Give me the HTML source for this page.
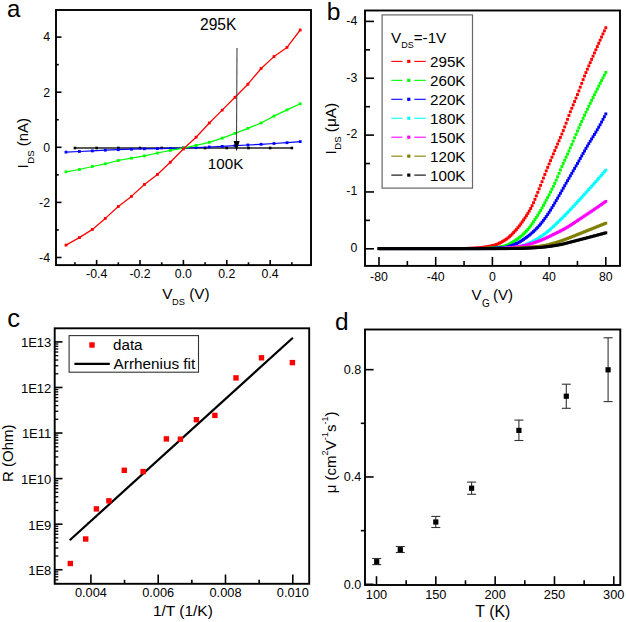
<!DOCTYPE html>
<html><head><meta charset="utf-8"><style>
html,body{margin:0;padding:0;background:#fff;overflow:hidden;}
svg{display:block;}
text{font-family:"Liberation Sans", sans-serif;fill:#000;}
</style></head><body>
<svg width="626" height="622" viewBox="0 0 626 622">
<rect width="626" height="622" fill="#fff"/>
<rect x="56" y="10" width="255" height="255.10000000000002" fill="none" stroke="#000" stroke-width="1.9"/>
<line x1="96.64" y1="265.10" x2="96.64" y2="259.90" stroke="#000" stroke-width="1.6"/>
<text x="96.64" y="277.90" font-size="12.3" text-anchor="middle" >-0.4</text>
<line x1="140.02" y1="265.10" x2="140.02" y2="259.90" stroke="#000" stroke-width="1.6"/>
<text x="140.02" y="277.90" font-size="12.3" text-anchor="middle" >-0.2</text>
<line x1="183.40" y1="265.10" x2="183.40" y2="259.90" stroke="#000" stroke-width="1.6"/>
<text x="183.40" y="277.90" font-size="12.3" text-anchor="middle" >0.0</text>
<line x1="226.78" y1="265.10" x2="226.78" y2="259.90" stroke="#000" stroke-width="1.6"/>
<text x="226.78" y="277.90" font-size="12.3" text-anchor="middle" >0.2</text>
<line x1="270.16" y1="265.10" x2="270.16" y2="259.90" stroke="#000" stroke-width="1.6"/>
<text x="270.16" y="277.90" font-size="12.3" text-anchor="middle" >0.4</text>
<line x1="74.95" y1="265.10" x2="74.95" y2="262.30" stroke="#000" stroke-width="1.6"/>
<line x1="118.33" y1="265.10" x2="118.33" y2="262.30" stroke="#000" stroke-width="1.6"/>
<line x1="161.71" y1="265.10" x2="161.71" y2="262.30" stroke="#000" stroke-width="1.6"/>
<line x1="205.09" y1="265.10" x2="205.09" y2="262.30" stroke="#000" stroke-width="1.6"/>
<line x1="248.47" y1="265.10" x2="248.47" y2="262.30" stroke="#000" stroke-width="1.6"/>
<line x1="291.85" y1="265.10" x2="291.85" y2="262.30" stroke="#000" stroke-width="1.6"/>
<line x1="56.00" y1="37.10" x2="61.50" y2="37.10" stroke="#000" stroke-width="1.6"/>
<text x="50.00" y="41.40" font-size="12.3" text-anchor="end" >4</text>
<line x1="56.00" y1="92.20" x2="61.50" y2="92.20" stroke="#000" stroke-width="1.6"/>
<text x="50.00" y="96.50" font-size="12.3" text-anchor="end" >2</text>
<line x1="56.00" y1="147.30" x2="61.50" y2="147.30" stroke="#000" stroke-width="1.6"/>
<text x="50.00" y="151.60" font-size="12.3" text-anchor="end" >0</text>
<line x1="56.00" y1="202.40" x2="61.50" y2="202.40" stroke="#000" stroke-width="1.6"/>
<text x="50.00" y="206.70" font-size="12.3" text-anchor="end" >-2</text>
<line x1="56.00" y1="257.50" x2="61.50" y2="257.50" stroke="#000" stroke-width="1.6"/>
<text x="50.00" y="261.80" font-size="12.3" text-anchor="end" >-4</text>
<line x1="56.00" y1="64.65" x2="58.80" y2="64.65" stroke="#000" stroke-width="1.6"/>
<line x1="56.00" y1="119.75" x2="58.80" y2="119.75" stroke="#000" stroke-width="1.6"/>
<line x1="56.00" y1="174.85" x2="58.80" y2="174.85" stroke="#000" stroke-width="1.6"/>
<line x1="56.00" y1="229.95" x2="58.80" y2="229.95" stroke="#000" stroke-width="1.6"/>
<polyline points="74.95,148.00 96.64,148.00 118.33,148.00 140.02,148.00 161.71,148.00 183.40,148.00 205.09,148.00 226.78,148.00 248.47,148.00 270.16,148.00 291.85,148.00" fill="none" stroke="#222" stroke-width="1.5" stroke-linejoin="round"/>
<rect x="73.65" y="146.70" width="2.60" height="2.60" fill="#000"/>
<rect x="95.34" y="146.70" width="2.60" height="2.60" fill="#000"/>
<rect x="117.03" y="146.70" width="2.60" height="2.60" fill="#000"/>
<rect x="138.72" y="146.70" width="2.60" height="2.60" fill="#000"/>
<rect x="160.41" y="146.70" width="2.60" height="2.60" fill="#000"/>
<rect x="182.10" y="146.70" width="2.60" height="2.60" fill="#000"/>
<rect x="203.79" y="146.70" width="2.60" height="2.60" fill="#000"/>
<rect x="225.48" y="146.70" width="2.60" height="2.60" fill="#000"/>
<rect x="247.17" y="146.70" width="2.60" height="2.60" fill="#000"/>
<rect x="268.86" y="146.70" width="2.60" height="2.60" fill="#000"/>
<rect x="290.55" y="146.70" width="2.60" height="2.60" fill="#000"/>
<polyline points="66.00,152.10 79.40,151.50 92.40,150.90 105.30,150.20 118.30,149.70 131.40,149.20 144.40,148.80 157.40,148.60 170.30,148.40 183.30,148.00 196.10,147.70 209.30,147.00 222.20,146.40 235.00,145.70 247.90,145.00 261.10,144.30 274.00,143.50 287.00,142.70 300.20,141.60" fill="none" stroke="#0000ff" stroke-width="1.25" stroke-linejoin="round"/>
<rect x="64.60" y="150.70" width="2.80" height="2.80" fill="#0000ff"/>
<rect x="78.00" y="150.10" width="2.80" height="2.80" fill="#0000ff"/>
<rect x="91.00" y="149.50" width="2.80" height="2.80" fill="#0000ff"/>
<rect x="103.90" y="148.80" width="2.80" height="2.80" fill="#0000ff"/>
<rect x="116.90" y="148.30" width="2.80" height="2.80" fill="#0000ff"/>
<rect x="130.00" y="147.80" width="2.80" height="2.80" fill="#0000ff"/>
<rect x="143.00" y="147.40" width="2.80" height="2.80" fill="#0000ff"/>
<rect x="156.00" y="147.20" width="2.80" height="2.80" fill="#0000ff"/>
<rect x="168.90" y="147.00" width="2.80" height="2.80" fill="#0000ff"/>
<rect x="181.90" y="146.60" width="2.80" height="2.80" fill="#0000ff"/>
<rect x="194.70" y="146.30" width="2.80" height="2.80" fill="#0000ff"/>
<rect x="207.90" y="145.60" width="2.80" height="2.80" fill="#0000ff"/>
<rect x="220.80" y="145.00" width="2.80" height="2.80" fill="#0000ff"/>
<rect x="233.60" y="144.30" width="2.80" height="2.80" fill="#0000ff"/>
<rect x="246.50" y="143.60" width="2.80" height="2.80" fill="#0000ff"/>
<rect x="259.70" y="142.90" width="2.80" height="2.80" fill="#0000ff"/>
<rect x="272.60" y="142.10" width="2.80" height="2.80" fill="#0000ff"/>
<rect x="285.60" y="141.30" width="2.80" height="2.80" fill="#0000ff"/>
<rect x="298.80" y="140.20" width="2.80" height="2.80" fill="#0000ff"/>
<polyline points="66.00,171.80 79.40,169.50 92.40,166.50 105.30,163.80 118.30,160.50 131.40,158.20 144.40,155.90 157.40,153.00 170.30,150.40 183.30,148.20 196.10,145.40 209.30,142.30 222.20,138.10 235.00,133.30 247.90,128.30 261.10,123.00 274.00,116.10 287.00,109.90 300.20,103.80" fill="none" stroke="#00ff00" stroke-width="1.25" stroke-linejoin="round"/>
<rect x="64.60" y="170.40" width="2.80" height="2.80" fill="#00ff00"/>
<rect x="78.00" y="168.10" width="2.80" height="2.80" fill="#00ff00"/>
<rect x="91.00" y="165.10" width="2.80" height="2.80" fill="#00ff00"/>
<rect x="103.90" y="162.40" width="2.80" height="2.80" fill="#00ff00"/>
<rect x="116.90" y="159.10" width="2.80" height="2.80" fill="#00ff00"/>
<rect x="130.00" y="156.80" width="2.80" height="2.80" fill="#00ff00"/>
<rect x="143.00" y="154.50" width="2.80" height="2.80" fill="#00ff00"/>
<rect x="156.00" y="151.60" width="2.80" height="2.80" fill="#00ff00"/>
<rect x="168.90" y="149.00" width="2.80" height="2.80" fill="#00ff00"/>
<rect x="181.90" y="146.80" width="2.80" height="2.80" fill="#00ff00"/>
<rect x="194.70" y="144.00" width="2.80" height="2.80" fill="#00ff00"/>
<rect x="207.90" y="140.90" width="2.80" height="2.80" fill="#00ff00"/>
<rect x="220.80" y="136.70" width="2.80" height="2.80" fill="#00ff00"/>
<rect x="233.60" y="131.90" width="2.80" height="2.80" fill="#00ff00"/>
<rect x="246.50" y="126.90" width="2.80" height="2.80" fill="#00ff00"/>
<rect x="259.70" y="121.60" width="2.80" height="2.80" fill="#00ff00"/>
<rect x="272.60" y="114.70" width="2.80" height="2.80" fill="#00ff00"/>
<rect x="285.60" y="108.50" width="2.80" height="2.80" fill="#00ff00"/>
<rect x="298.80" y="102.40" width="2.80" height="2.80" fill="#00ff00"/>
<polyline points="66.00,245.10 79.40,237.60 92.40,229.40 105.30,218.40 118.30,206.50 131.40,196.40 144.40,184.50 157.40,174.50 170.30,162.20 183.30,149.00 196.10,137.20 209.30,123.00 222.20,110.10 235.00,97.30 247.90,84.20 261.10,68.50 274.00,56.60 287.00,47.40 300.20,30.00" fill="none" stroke="#ff0000" stroke-width="1.25" stroke-linejoin="round"/>
<rect x="64.60" y="243.70" width="2.80" height="2.80" fill="#ff0000"/>
<rect x="78.00" y="236.20" width="2.80" height="2.80" fill="#ff0000"/>
<rect x="91.00" y="228.00" width="2.80" height="2.80" fill="#ff0000"/>
<rect x="103.90" y="217.00" width="2.80" height="2.80" fill="#ff0000"/>
<rect x="116.90" y="205.10" width="2.80" height="2.80" fill="#ff0000"/>
<rect x="130.00" y="195.00" width="2.80" height="2.80" fill="#ff0000"/>
<rect x="143.00" y="183.10" width="2.80" height="2.80" fill="#ff0000"/>
<rect x="156.00" y="173.10" width="2.80" height="2.80" fill="#ff0000"/>
<rect x="168.90" y="160.80" width="2.80" height="2.80" fill="#ff0000"/>
<rect x="181.90" y="147.60" width="2.80" height="2.80" fill="#ff0000"/>
<rect x="194.70" y="135.80" width="2.80" height="2.80" fill="#ff0000"/>
<rect x="207.90" y="121.60" width="2.80" height="2.80" fill="#ff0000"/>
<rect x="220.80" y="108.70" width="2.80" height="2.80" fill="#ff0000"/>
<rect x="233.60" y="95.90" width="2.80" height="2.80" fill="#ff0000"/>
<rect x="246.50" y="82.80" width="2.80" height="2.80" fill="#ff0000"/>
<rect x="259.70" y="67.10" width="2.80" height="2.80" fill="#ff0000"/>
<rect x="272.60" y="55.20" width="2.80" height="2.80" fill="#ff0000"/>
<rect x="285.60" y="46.00" width="2.80" height="2.80" fill="#ff0000"/>
<rect x="298.80" y="28.60" width="2.80" height="2.80" fill="#ff0000"/>
<text x="200.00" y="30.00" font-size="15.6" text-anchor="start" >295K</text>
<text x="207.80" y="169.10" font-size="15.2" text-anchor="start" >100K</text>
<line x1="237.00" y1="47.90" x2="236.50" y2="142.00" stroke="#444" stroke-width="1.1"/>
<polygon points="233.6,141 239.6,141 236.6,151.2" fill="#000"/>
<text x="162.20" y="299.10" font-size="15.3" text-anchor="start" >V<tspan font-size="9.3" dx="-0.4" dy="6.3">DS</tspan><tspan dy="-6.3"> (V)</tspan></text>
<text transform="translate(28.1,168.5) rotate(-90)" font-size="15">I<tspan font-size="9.5" dx="0.6" dy="5.6">DS</tspan><tspan dy="-5.6"> (nA)</tspan></text>
<text x="7.00" y="16.80" font-size="24" text-anchor="start" >a</text>
<rect x="365" y="10.5" width="255" height="255.39999999999998" fill="none" stroke="#000" stroke-width="1.9"/>
<line x1="379.00" y1="265.90" x2="379.00" y2="256.90" stroke="#000" stroke-width="1.6"/>
<text x="379.00" y="281.00" font-size="12.3" text-anchor="middle" >-80</text>
<line x1="435.70" y1="265.90" x2="435.70" y2="256.90" stroke="#000" stroke-width="1.6"/>
<text x="435.70" y="281.00" font-size="12.3" text-anchor="middle" >-40</text>
<line x1="492.40" y1="265.90" x2="492.40" y2="256.90" stroke="#000" stroke-width="1.6"/>
<text x="492.40" y="281.00" font-size="12.3" text-anchor="middle" >0</text>
<line x1="549.10" y1="265.90" x2="549.10" y2="256.90" stroke="#000" stroke-width="1.6"/>
<text x="549.10" y="281.00" font-size="12.3" text-anchor="middle" >40</text>
<line x1="605.80" y1="265.90" x2="605.80" y2="256.90" stroke="#000" stroke-width="1.6"/>
<text x="605.80" y="281.00" font-size="12.3" text-anchor="middle" >80</text>
<line x1="407.35" y1="265.90" x2="407.35" y2="260.90" stroke="#000" stroke-width="1.6"/>
<line x1="464.05" y1="265.90" x2="464.05" y2="260.90" stroke="#000" stroke-width="1.6"/>
<line x1="520.75" y1="265.90" x2="520.75" y2="260.90" stroke="#000" stroke-width="1.6"/>
<line x1="577.45" y1="265.90" x2="577.45" y2="260.90" stroke="#000" stroke-width="1.6"/>
<line x1="365.00" y1="21.40" x2="374.00" y2="21.40" stroke="#000" stroke-width="1.6"/>
<text x="357.30" y="24.70" font-size="12.3" text-anchor="end" >-4</text>
<line x1="365.00" y1="78.25" x2="374.00" y2="78.25" stroke="#000" stroke-width="1.6"/>
<text x="357.30" y="81.55" font-size="12.3" text-anchor="end" >-3</text>
<line x1="365.00" y1="135.10" x2="374.00" y2="135.10" stroke="#000" stroke-width="1.6"/>
<text x="357.30" y="138.40" font-size="12.3" text-anchor="end" >-2</text>
<line x1="365.00" y1="191.95" x2="374.00" y2="191.95" stroke="#000" stroke-width="1.6"/>
<text x="357.30" y="195.25" font-size="12.3" text-anchor="end" >-1</text>
<line x1="365.00" y1="248.80" x2="374.00" y2="248.80" stroke="#000" stroke-width="1.6"/>
<text x="357.30" y="252.10" font-size="12.3" text-anchor="end" >0</text>
<line x1="365.00" y1="49.83" x2="370.00" y2="49.83" stroke="#000" stroke-width="1.6"/>
<line x1="365.00" y1="106.68" x2="370.00" y2="106.68" stroke="#000" stroke-width="1.6"/>
<line x1="365.00" y1="163.53" x2="370.00" y2="163.53" stroke="#000" stroke-width="1.6"/>
<line x1="365.00" y1="220.38" x2="370.00" y2="220.38" stroke="#000" stroke-width="1.6"/>
<rect x="377.55" y="247.15" width="2.90" height="2.90" fill="#ff0000"/>
<rect x="378.97" y="247.15" width="2.90" height="2.90" fill="#ff0000"/>
<rect x="380.38" y="247.15" width="2.90" height="2.90" fill="#ff0000"/>
<rect x="381.80" y="247.15" width="2.90" height="2.90" fill="#ff0000"/>
<rect x="383.22" y="247.15" width="2.90" height="2.90" fill="#ff0000"/>
<rect x="384.64" y="247.15" width="2.90" height="2.90" fill="#ff0000"/>
<rect x="386.06" y="247.15" width="2.90" height="2.90" fill="#ff0000"/>
<rect x="387.47" y="247.15" width="2.90" height="2.90" fill="#ff0000"/>
<rect x="388.89" y="247.15" width="2.90" height="2.90" fill="#ff0000"/>
<rect x="390.31" y="247.15" width="2.90" height="2.90" fill="#ff0000"/>
<rect x="391.72" y="247.15" width="2.90" height="2.90" fill="#ff0000"/>
<rect x="393.14" y="247.15" width="2.90" height="2.90" fill="#ff0000"/>
<rect x="394.56" y="247.15" width="2.90" height="2.90" fill="#ff0000"/>
<rect x="395.98" y="247.15" width="2.90" height="2.90" fill="#ff0000"/>
<rect x="397.39" y="247.15" width="2.90" height="2.90" fill="#ff0000"/>
<rect x="398.81" y="247.15" width="2.90" height="2.90" fill="#ff0000"/>
<rect x="400.23" y="247.15" width="2.90" height="2.90" fill="#ff0000"/>
<rect x="401.65" y="247.15" width="2.90" height="2.90" fill="#ff0000"/>
<rect x="403.06" y="247.15" width="2.90" height="2.90" fill="#ff0000"/>
<rect x="404.48" y="247.15" width="2.90" height="2.90" fill="#ff0000"/>
<rect x="405.90" y="247.15" width="2.90" height="2.90" fill="#ff0000"/>
<rect x="407.32" y="247.15" width="2.90" height="2.90" fill="#ff0000"/>
<rect x="408.73" y="247.15" width="2.90" height="2.90" fill="#ff0000"/>
<rect x="410.15" y="247.15" width="2.90" height="2.90" fill="#ff0000"/>
<rect x="411.57" y="247.15" width="2.90" height="2.90" fill="#ff0000"/>
<rect x="412.99" y="247.15" width="2.90" height="2.90" fill="#ff0000"/>
<rect x="414.40" y="247.15" width="2.90" height="2.90" fill="#ff0000"/>
<rect x="415.82" y="247.15" width="2.90" height="2.90" fill="#ff0000"/>
<rect x="417.24" y="247.15" width="2.90" height="2.90" fill="#ff0000"/>
<rect x="418.66" y="247.15" width="2.90" height="2.90" fill="#ff0000"/>
<rect x="420.07" y="247.15" width="2.90" height="2.90" fill="#ff0000"/>
<rect x="421.49" y="247.15" width="2.90" height="2.90" fill="#ff0000"/>
<rect x="422.91" y="247.15" width="2.90" height="2.90" fill="#ff0000"/>
<rect x="424.33" y="247.15" width="2.90" height="2.90" fill="#ff0000"/>
<rect x="425.75" y="247.15" width="2.90" height="2.90" fill="#ff0000"/>
<rect x="427.16" y="247.15" width="2.90" height="2.90" fill="#ff0000"/>
<rect x="428.58" y="247.15" width="2.90" height="2.90" fill="#ff0000"/>
<rect x="430.00" y="247.15" width="2.90" height="2.90" fill="#ff0000"/>
<rect x="431.42" y="247.15" width="2.90" height="2.90" fill="#ff0000"/>
<rect x="432.83" y="247.15" width="2.90" height="2.90" fill="#ff0000"/>
<rect x="434.25" y="247.15" width="2.90" height="2.90" fill="#ff0000"/>
<rect x="435.67" y="247.15" width="2.90" height="2.90" fill="#ff0000"/>
<rect x="437.08" y="247.15" width="2.90" height="2.90" fill="#ff0000"/>
<rect x="438.50" y="247.15" width="2.90" height="2.90" fill="#ff0000"/>
<rect x="439.92" y="247.15" width="2.90" height="2.90" fill="#ff0000"/>
<rect x="441.34" y="247.15" width="2.90" height="2.90" fill="#ff0000"/>
<rect x="442.75" y="247.15" width="2.90" height="2.90" fill="#ff0000"/>
<rect x="444.17" y="247.15" width="2.90" height="2.90" fill="#ff0000"/>
<rect x="445.59" y="247.15" width="2.90" height="2.90" fill="#ff0000"/>
<rect x="447.01" y="247.15" width="2.90" height="2.90" fill="#ff0000"/>
<rect x="448.43" y="247.15" width="2.90" height="2.90" fill="#ff0000"/>
<rect x="449.84" y="247.15" width="2.90" height="2.90" fill="#ff0000"/>
<rect x="451.26" y="247.15" width="2.90" height="2.90" fill="#ff0000"/>
<rect x="452.68" y="247.15" width="2.90" height="2.90" fill="#ff0000"/>
<rect x="454.09" y="247.15" width="2.90" height="2.90" fill="#ff0000"/>
<rect x="455.51" y="247.14" width="2.90" height="2.90" fill="#ff0000"/>
<rect x="456.93" y="247.13" width="2.90" height="2.90" fill="#ff0000"/>
<rect x="458.35" y="247.12" width="2.90" height="2.90" fill="#ff0000"/>
<rect x="459.76" y="247.09" width="2.90" height="2.90" fill="#ff0000"/>
<rect x="461.18" y="247.07" width="2.90" height="2.90" fill="#ff0000"/>
<rect x="462.60" y="247.04" width="2.90" height="2.90" fill="#ff0000"/>
<rect x="464.02" y="247.00" width="2.90" height="2.90" fill="#ff0000"/>
<rect x="465.44" y="246.96" width="2.90" height="2.90" fill="#ff0000"/>
<rect x="466.85" y="246.92" width="2.90" height="2.90" fill="#ff0000"/>
<rect x="468.27" y="246.87" width="2.90" height="2.90" fill="#ff0000"/>
<rect x="469.69" y="246.82" width="2.90" height="2.90" fill="#ff0000"/>
<rect x="471.10" y="246.76" width="2.90" height="2.90" fill="#ff0000"/>
<rect x="472.52" y="246.71" width="2.90" height="2.90" fill="#ff0000"/>
<rect x="473.94" y="246.65" width="2.90" height="2.90" fill="#ff0000"/>
<rect x="475.36" y="246.57" width="2.90" height="2.90" fill="#ff0000"/>
<rect x="476.77" y="246.47" width="2.90" height="2.90" fill="#ff0000"/>
<rect x="478.19" y="246.34" width="2.90" height="2.90" fill="#ff0000"/>
<rect x="479.61" y="246.19" width="2.90" height="2.90" fill="#ff0000"/>
<rect x="481.03" y="246.02" width="2.90" height="2.90" fill="#ff0000"/>
<rect x="482.44" y="245.82" width="2.90" height="2.90" fill="#ff0000"/>
<rect x="483.86" y="245.60" width="2.90" height="2.90" fill="#ff0000"/>
<rect x="485.28" y="245.36" width="2.90" height="2.90" fill="#ff0000"/>
<rect x="486.70" y="245.11" width="2.90" height="2.90" fill="#ff0000"/>
<rect x="488.12" y="244.83" width="2.90" height="2.90" fill="#ff0000"/>
<rect x="489.53" y="244.54" width="2.90" height="2.90" fill="#ff0000"/>
<rect x="490.95" y="244.23" width="2.90" height="2.90" fill="#ff0000"/>
<rect x="492.37" y="243.90" width="2.90" height="2.90" fill="#ff0000"/>
<rect x="493.78" y="243.48" width="2.90" height="2.90" fill="#ff0000"/>
<rect x="495.20" y="242.97" width="2.90" height="2.90" fill="#ff0000"/>
<rect x="496.62" y="242.38" width="2.90" height="2.90" fill="#ff0000"/>
<rect x="498.04" y="241.72" width="2.90" height="2.90" fill="#ff0000"/>
<rect x="499.45" y="240.99" width="2.90" height="2.90" fill="#ff0000"/>
<rect x="500.87" y="240.20" width="2.90" height="2.90" fill="#ff0000"/>
<rect x="502.29" y="239.36" width="2.90" height="2.90" fill="#ff0000"/>
<rect x="503.71" y="238.49" width="2.90" height="2.90" fill="#ff0000"/>
<rect x="505.12" y="237.57" width="2.90" height="2.90" fill="#ff0000"/>
<rect x="506.54" y="236.50" width="2.90" height="2.90" fill="#ff0000"/>
<rect x="507.96" y="235.30" width="2.90" height="2.90" fill="#ff0000"/>
<rect x="509.38" y="233.97" width="2.90" height="2.90" fill="#ff0000"/>
<rect x="510.80" y="232.54" width="2.90" height="2.90" fill="#ff0000"/>
<rect x="512.21" y="231.05" width="2.90" height="2.90" fill="#ff0000"/>
<rect x="513.63" y="229.49" width="2.90" height="2.90" fill="#ff0000"/>
<rect x="515.05" y="227.92" width="2.90" height="2.90" fill="#ff0000"/>
<rect x="516.46" y="226.24" width="2.90" height="2.90" fill="#ff0000"/>
<rect x="517.88" y="224.44" width="2.90" height="2.90" fill="#ff0000"/>
<rect x="519.30" y="222.55" width="2.90" height="2.90" fill="#ff0000"/>
<rect x="520.72" y="220.56" width="2.90" height="2.90" fill="#ff0000"/>
<rect x="522.13" y="218.51" width="2.90" height="2.90" fill="#ff0000"/>
<rect x="523.55" y="216.41" width="2.90" height="2.90" fill="#ff0000"/>
<rect x="524.97" y="214.23" width="2.90" height="2.90" fill="#ff0000"/>
<rect x="526.39" y="211.96" width="2.90" height="2.90" fill="#ff0000"/>
<rect x="527.80" y="209.57" width="2.90" height="2.90" fill="#ff0000"/>
<rect x="529.22" y="207.02" width="2.90" height="2.90" fill="#ff0000"/>
<rect x="530.64" y="204.27" width="2.90" height="2.90" fill="#ff0000"/>
<rect x="532.06" y="201.22" width="2.90" height="2.90" fill="#ff0000"/>
<rect x="533.47" y="197.92" width="2.90" height="2.90" fill="#ff0000"/>
<rect x="534.89" y="194.45" width="2.90" height="2.90" fill="#ff0000"/>
<rect x="536.31" y="190.91" width="2.90" height="2.90" fill="#ff0000"/>
<rect x="537.73" y="187.40" width="2.90" height="2.90" fill="#ff0000"/>
<rect x="539.14" y="183.89" width="2.90" height="2.90" fill="#ff0000"/>
<rect x="540.56" y="180.28" width="2.90" height="2.90" fill="#ff0000"/>
<rect x="541.98" y="176.63" width="2.90" height="2.90" fill="#ff0000"/>
<rect x="543.40" y="173.00" width="2.90" height="2.90" fill="#ff0000"/>
<rect x="544.81" y="169.42" width="2.90" height="2.90" fill="#ff0000"/>
<rect x="546.23" y="165.94" width="2.90" height="2.90" fill="#ff0000"/>
<rect x="547.65" y="162.53" width="2.90" height="2.90" fill="#ff0000"/>
<rect x="549.07" y="159.17" width="2.90" height="2.90" fill="#ff0000"/>
<rect x="550.48" y="155.83" width="2.90" height="2.90" fill="#ff0000"/>
<rect x="551.90" y="152.49" width="2.90" height="2.90" fill="#ff0000"/>
<rect x="553.32" y="149.15" width="2.90" height="2.90" fill="#ff0000"/>
<rect x="554.74" y="145.83" width="2.90" height="2.90" fill="#ff0000"/>
<rect x="556.15" y="142.54" width="2.90" height="2.90" fill="#ff0000"/>
<rect x="557.57" y="139.26" width="2.90" height="2.90" fill="#ff0000"/>
<rect x="558.99" y="135.95" width="2.90" height="2.90" fill="#ff0000"/>
<rect x="560.41" y="132.58" width="2.90" height="2.90" fill="#ff0000"/>
<rect x="561.82" y="129.11" width="2.90" height="2.90" fill="#ff0000"/>
<rect x="563.24" y="125.49" width="2.90" height="2.90" fill="#ff0000"/>
<rect x="564.66" y="121.71" width="2.90" height="2.90" fill="#ff0000"/>
<rect x="566.08" y="117.86" width="2.90" height="2.90" fill="#ff0000"/>
<rect x="567.49" y="114.04" width="2.90" height="2.90" fill="#ff0000"/>
<rect x="568.91" y="110.35" width="2.90" height="2.90" fill="#ff0000"/>
<rect x="570.33" y="106.83" width="2.90" height="2.90" fill="#ff0000"/>
<rect x="571.75" y="103.42" width="2.90" height="2.90" fill="#ff0000"/>
<rect x="573.16" y="100.04" width="2.90" height="2.90" fill="#ff0000"/>
<rect x="574.58" y="96.63" width="2.90" height="2.90" fill="#ff0000"/>
<rect x="576.00" y="93.12" width="2.90" height="2.90" fill="#ff0000"/>
<rect x="577.42" y="89.45" width="2.90" height="2.90" fill="#ff0000"/>
<rect x="578.83" y="85.69" width="2.90" height="2.90" fill="#ff0000"/>
<rect x="580.25" y="81.91" width="2.90" height="2.90" fill="#ff0000"/>
<rect x="581.67" y="78.17" width="2.90" height="2.90" fill="#ff0000"/>
<rect x="583.09" y="74.55" width="2.90" height="2.90" fill="#ff0000"/>
<rect x="584.50" y="71.09" width="2.90" height="2.90" fill="#ff0000"/>
<rect x="585.92" y="67.73" width="2.90" height="2.90" fill="#ff0000"/>
<rect x="587.34" y="64.44" width="2.90" height="2.90" fill="#ff0000"/>
<rect x="588.76" y="61.19" width="2.90" height="2.90" fill="#ff0000"/>
<rect x="590.17" y="57.97" width="2.90" height="2.90" fill="#ff0000"/>
<rect x="591.59" y="54.74" width="2.90" height="2.90" fill="#ff0000"/>
<rect x="593.01" y="51.52" width="2.90" height="2.90" fill="#ff0000"/>
<rect x="594.43" y="48.31" width="2.90" height="2.90" fill="#ff0000"/>
<rect x="595.84" y="45.11" width="2.90" height="2.90" fill="#ff0000"/>
<rect x="597.26" y="41.93" width="2.90" height="2.90" fill="#ff0000"/>
<rect x="598.68" y="38.77" width="2.90" height="2.90" fill="#ff0000"/>
<rect x="600.10" y="35.62" width="2.90" height="2.90" fill="#ff0000"/>
<rect x="601.51" y="32.50" width="2.90" height="2.90" fill="#ff0000"/>
<rect x="602.93" y="29.39" width="2.90" height="2.90" fill="#ff0000"/>
<rect x="604.35" y="26.30" width="2.90" height="2.90" fill="#ff0000"/>
<rect x="377.55" y="247.15" width="2.90" height="2.90" fill="#00ff00"/>
<rect x="378.97" y="247.15" width="2.90" height="2.90" fill="#00ff00"/>
<rect x="380.38" y="247.15" width="2.90" height="2.90" fill="#00ff00"/>
<rect x="381.80" y="247.15" width="2.90" height="2.90" fill="#00ff00"/>
<rect x="383.22" y="247.15" width="2.90" height="2.90" fill="#00ff00"/>
<rect x="384.64" y="247.15" width="2.90" height="2.90" fill="#00ff00"/>
<rect x="386.06" y="247.15" width="2.90" height="2.90" fill="#00ff00"/>
<rect x="387.47" y="247.15" width="2.90" height="2.90" fill="#00ff00"/>
<rect x="388.89" y="247.15" width="2.90" height="2.90" fill="#00ff00"/>
<rect x="390.31" y="247.15" width="2.90" height="2.90" fill="#00ff00"/>
<rect x="391.72" y="247.15" width="2.90" height="2.90" fill="#00ff00"/>
<rect x="393.14" y="247.15" width="2.90" height="2.90" fill="#00ff00"/>
<rect x="394.56" y="247.15" width="2.90" height="2.90" fill="#00ff00"/>
<rect x="395.98" y="247.15" width="2.90" height="2.90" fill="#00ff00"/>
<rect x="397.39" y="247.15" width="2.90" height="2.90" fill="#00ff00"/>
<rect x="398.81" y="247.15" width="2.90" height="2.90" fill="#00ff00"/>
<rect x="400.23" y="247.15" width="2.90" height="2.90" fill="#00ff00"/>
<rect x="401.65" y="247.15" width="2.90" height="2.90" fill="#00ff00"/>
<rect x="403.06" y="247.15" width="2.90" height="2.90" fill="#00ff00"/>
<rect x="404.48" y="247.15" width="2.90" height="2.90" fill="#00ff00"/>
<rect x="405.90" y="247.15" width="2.90" height="2.90" fill="#00ff00"/>
<rect x="407.32" y="247.15" width="2.90" height="2.90" fill="#00ff00"/>
<rect x="408.73" y="247.15" width="2.90" height="2.90" fill="#00ff00"/>
<rect x="410.15" y="247.15" width="2.90" height="2.90" fill="#00ff00"/>
<rect x="411.57" y="247.15" width="2.90" height="2.90" fill="#00ff00"/>
<rect x="412.99" y="247.15" width="2.90" height="2.90" fill="#00ff00"/>
<rect x="414.40" y="247.15" width="2.90" height="2.90" fill="#00ff00"/>
<rect x="415.82" y="247.15" width="2.90" height="2.90" fill="#00ff00"/>
<rect x="417.24" y="247.15" width="2.90" height="2.90" fill="#00ff00"/>
<rect x="418.66" y="247.15" width="2.90" height="2.90" fill="#00ff00"/>
<rect x="420.07" y="247.15" width="2.90" height="2.90" fill="#00ff00"/>
<rect x="421.49" y="247.15" width="2.90" height="2.90" fill="#00ff00"/>
<rect x="422.91" y="247.15" width="2.90" height="2.90" fill="#00ff00"/>
<rect x="424.33" y="247.15" width="2.90" height="2.90" fill="#00ff00"/>
<rect x="425.75" y="247.15" width="2.90" height="2.90" fill="#00ff00"/>
<rect x="427.16" y="247.15" width="2.90" height="2.90" fill="#00ff00"/>
<rect x="428.58" y="247.15" width="2.90" height="2.90" fill="#00ff00"/>
<rect x="430.00" y="247.15" width="2.90" height="2.90" fill="#00ff00"/>
<rect x="431.42" y="247.15" width="2.90" height="2.90" fill="#00ff00"/>
<rect x="432.83" y="247.15" width="2.90" height="2.90" fill="#00ff00"/>
<rect x="434.25" y="247.15" width="2.90" height="2.90" fill="#00ff00"/>
<rect x="435.67" y="247.15" width="2.90" height="2.90" fill="#00ff00"/>
<rect x="437.08" y="247.15" width="2.90" height="2.90" fill="#00ff00"/>
<rect x="438.50" y="247.15" width="2.90" height="2.90" fill="#00ff00"/>
<rect x="439.92" y="247.15" width="2.90" height="2.90" fill="#00ff00"/>
<rect x="441.34" y="247.15" width="2.90" height="2.90" fill="#00ff00"/>
<rect x="442.75" y="247.15" width="2.90" height="2.90" fill="#00ff00"/>
<rect x="444.17" y="247.15" width="2.90" height="2.90" fill="#00ff00"/>
<rect x="445.59" y="247.15" width="2.90" height="2.90" fill="#00ff00"/>
<rect x="447.01" y="247.15" width="2.90" height="2.90" fill="#00ff00"/>
<rect x="448.43" y="247.15" width="2.90" height="2.90" fill="#00ff00"/>
<rect x="449.84" y="247.15" width="2.90" height="2.90" fill="#00ff00"/>
<rect x="451.26" y="247.15" width="2.90" height="2.90" fill="#00ff00"/>
<rect x="452.68" y="247.15" width="2.90" height="2.90" fill="#00ff00"/>
<rect x="454.09" y="247.15" width="2.90" height="2.90" fill="#00ff00"/>
<rect x="455.51" y="247.15" width="2.90" height="2.90" fill="#00ff00"/>
<rect x="456.93" y="247.15" width="2.90" height="2.90" fill="#00ff00"/>
<rect x="458.35" y="247.15" width="2.90" height="2.90" fill="#00ff00"/>
<rect x="459.76" y="247.15" width="2.90" height="2.90" fill="#00ff00"/>
<rect x="461.18" y="247.15" width="2.90" height="2.90" fill="#00ff00"/>
<rect x="462.60" y="247.15" width="2.90" height="2.90" fill="#00ff00"/>
<rect x="464.02" y="247.15" width="2.90" height="2.90" fill="#00ff00"/>
<rect x="465.44" y="247.15" width="2.90" height="2.90" fill="#00ff00"/>
<rect x="466.85" y="247.15" width="2.90" height="2.90" fill="#00ff00"/>
<rect x="468.27" y="247.15" width="2.90" height="2.90" fill="#00ff00"/>
<rect x="469.69" y="247.15" width="2.90" height="2.90" fill="#00ff00"/>
<rect x="471.10" y="247.14" width="2.90" height="2.90" fill="#00ff00"/>
<rect x="472.52" y="247.13" width="2.90" height="2.90" fill="#00ff00"/>
<rect x="473.94" y="247.12" width="2.90" height="2.90" fill="#00ff00"/>
<rect x="475.36" y="247.10" width="2.90" height="2.90" fill="#00ff00"/>
<rect x="476.77" y="247.08" width="2.90" height="2.90" fill="#00ff00"/>
<rect x="478.19" y="247.05" width="2.90" height="2.90" fill="#00ff00"/>
<rect x="479.61" y="247.02" width="2.90" height="2.90" fill="#00ff00"/>
<rect x="481.03" y="246.98" width="2.90" height="2.90" fill="#00ff00"/>
<rect x="482.44" y="246.95" width="2.90" height="2.90" fill="#00ff00"/>
<rect x="483.86" y="246.91" width="2.90" height="2.90" fill="#00ff00"/>
<rect x="485.28" y="246.86" width="2.90" height="2.90" fill="#00ff00"/>
<rect x="486.70" y="246.82" width="2.90" height="2.90" fill="#00ff00"/>
<rect x="488.12" y="246.77" width="2.90" height="2.90" fill="#00ff00"/>
<rect x="489.53" y="246.70" width="2.90" height="2.90" fill="#00ff00"/>
<rect x="490.95" y="246.61" width="2.90" height="2.90" fill="#00ff00"/>
<rect x="492.37" y="246.48" width="2.90" height="2.90" fill="#00ff00"/>
<rect x="493.78" y="246.32" width="2.90" height="2.90" fill="#00ff00"/>
<rect x="495.20" y="246.13" width="2.90" height="2.90" fill="#00ff00"/>
<rect x="496.62" y="245.91" width="2.90" height="2.90" fill="#00ff00"/>
<rect x="498.04" y="245.66" width="2.90" height="2.90" fill="#00ff00"/>
<rect x="499.45" y="245.39" width="2.90" height="2.90" fill="#00ff00"/>
<rect x="500.87" y="245.10" width="2.90" height="2.90" fill="#00ff00"/>
<rect x="502.29" y="244.79" width="2.90" height="2.90" fill="#00ff00"/>
<rect x="503.71" y="244.39" width="2.90" height="2.90" fill="#00ff00"/>
<rect x="505.12" y="243.88" width="2.90" height="2.90" fill="#00ff00"/>
<rect x="506.54" y="243.26" width="2.90" height="2.90" fill="#00ff00"/>
<rect x="507.96" y="242.55" width="2.90" height="2.90" fill="#00ff00"/>
<rect x="509.38" y="241.78" width="2.90" height="2.90" fill="#00ff00"/>
<rect x="510.80" y="240.94" width="2.90" height="2.90" fill="#00ff00"/>
<rect x="512.21" y="240.07" width="2.90" height="2.90" fill="#00ff00"/>
<rect x="513.63" y="239.17" width="2.90" height="2.90" fill="#00ff00"/>
<rect x="515.05" y="238.26" width="2.90" height="2.90" fill="#00ff00"/>
<rect x="516.46" y="237.28" width="2.90" height="2.90" fill="#00ff00"/>
<rect x="517.88" y="236.21" width="2.90" height="2.90" fill="#00ff00"/>
<rect x="519.30" y="235.06" width="2.90" height="2.90" fill="#00ff00"/>
<rect x="520.72" y="233.82" width="2.90" height="2.90" fill="#00ff00"/>
<rect x="522.13" y="232.50" width="2.90" height="2.90" fill="#00ff00"/>
<rect x="523.55" y="231.10" width="2.90" height="2.90" fill="#00ff00"/>
<rect x="524.97" y="229.63" width="2.90" height="2.90" fill="#00ff00"/>
<rect x="526.39" y="228.05" width="2.90" height="2.90" fill="#00ff00"/>
<rect x="527.80" y="226.30" width="2.90" height="2.90" fill="#00ff00"/>
<rect x="529.22" y="224.41" width="2.90" height="2.90" fill="#00ff00"/>
<rect x="530.64" y="222.41" width="2.90" height="2.90" fill="#00ff00"/>
<rect x="532.06" y="220.33" width="2.90" height="2.90" fill="#00ff00"/>
<rect x="533.47" y="218.18" width="2.90" height="2.90" fill="#00ff00"/>
<rect x="534.89" y="216.00" width="2.90" height="2.90" fill="#00ff00"/>
<rect x="536.31" y="213.78" width="2.90" height="2.90" fill="#00ff00"/>
<rect x="537.73" y="211.45" width="2.90" height="2.90" fill="#00ff00"/>
<rect x="539.14" y="209.03" width="2.90" height="2.90" fill="#00ff00"/>
<rect x="540.56" y="206.53" width="2.90" height="2.90" fill="#00ff00"/>
<rect x="541.98" y="203.97" width="2.90" height="2.90" fill="#00ff00"/>
<rect x="543.40" y="201.37" width="2.90" height="2.90" fill="#00ff00"/>
<rect x="544.81" y="198.74" width="2.90" height="2.90" fill="#00ff00"/>
<rect x="546.23" y="196.08" width="2.90" height="2.90" fill="#00ff00"/>
<rect x="547.65" y="193.39" width="2.90" height="2.90" fill="#00ff00"/>
<rect x="549.07" y="190.63" width="2.90" height="2.90" fill="#00ff00"/>
<rect x="550.48" y="187.81" width="2.90" height="2.90" fill="#00ff00"/>
<rect x="551.90" y="184.90" width="2.90" height="2.90" fill="#00ff00"/>
<rect x="553.32" y="181.88" width="2.90" height="2.90" fill="#00ff00"/>
<rect x="554.74" y="178.69" width="2.90" height="2.90" fill="#00ff00"/>
<rect x="556.15" y="175.33" width="2.90" height="2.90" fill="#00ff00"/>
<rect x="557.57" y="171.90" width="2.90" height="2.90" fill="#00ff00"/>
<rect x="558.99" y="168.47" width="2.90" height="2.90" fill="#00ff00"/>
<rect x="560.41" y="165.13" width="2.90" height="2.90" fill="#00ff00"/>
<rect x="561.82" y="161.94" width="2.90" height="2.90" fill="#00ff00"/>
<rect x="563.24" y="158.83" width="2.90" height="2.90" fill="#00ff00"/>
<rect x="564.66" y="155.77" width="2.90" height="2.90" fill="#00ff00"/>
<rect x="566.08" y="152.71" width="2.90" height="2.90" fill="#00ff00"/>
<rect x="567.49" y="149.59" width="2.90" height="2.90" fill="#00ff00"/>
<rect x="568.91" y="146.39" width="2.90" height="2.90" fill="#00ff00"/>
<rect x="570.33" y="143.09" width="2.90" height="2.90" fill="#00ff00"/>
<rect x="571.75" y="139.72" width="2.90" height="2.90" fill="#00ff00"/>
<rect x="573.16" y="136.33" width="2.90" height="2.90" fill="#00ff00"/>
<rect x="574.58" y="132.96" width="2.90" height="2.90" fill="#00ff00"/>
<rect x="576.00" y="129.66" width="2.90" height="2.90" fill="#00ff00"/>
<rect x="577.42" y="126.43" width="2.90" height="2.90" fill="#00ff00"/>
<rect x="578.83" y="123.22" width="2.90" height="2.90" fill="#00ff00"/>
<rect x="580.25" y="120.05" width="2.90" height="2.90" fill="#00ff00"/>
<rect x="581.67" y="116.92" width="2.90" height="2.90" fill="#00ff00"/>
<rect x="583.09" y="113.83" width="2.90" height="2.90" fill="#00ff00"/>
<rect x="584.50" y="110.79" width="2.90" height="2.90" fill="#00ff00"/>
<rect x="585.92" y="107.79" width="2.90" height="2.90" fill="#00ff00"/>
<rect x="587.34" y="104.83" width="2.90" height="2.90" fill="#00ff00"/>
<rect x="588.76" y="101.89" width="2.90" height="2.90" fill="#00ff00"/>
<rect x="590.17" y="98.98" width="2.90" height="2.90" fill="#00ff00"/>
<rect x="591.59" y="96.10" width="2.90" height="2.90" fill="#00ff00"/>
<rect x="593.01" y="93.23" width="2.90" height="2.90" fill="#00ff00"/>
<rect x="594.43" y="90.38" width="2.90" height="2.90" fill="#00ff00"/>
<rect x="595.84" y="87.55" width="2.90" height="2.90" fill="#00ff00"/>
<rect x="597.26" y="84.73" width="2.90" height="2.90" fill="#00ff00"/>
<rect x="598.68" y="81.94" width="2.90" height="2.90" fill="#00ff00"/>
<rect x="600.10" y="79.17" width="2.90" height="2.90" fill="#00ff00"/>
<rect x="601.51" y="76.42" width="2.90" height="2.90" fill="#00ff00"/>
<rect x="602.93" y="73.69" width="2.90" height="2.90" fill="#00ff00"/>
<rect x="604.35" y="70.98" width="2.90" height="2.90" fill="#00ff00"/>
<rect x="377.55" y="247.15" width="2.90" height="2.90" fill="#0000ff"/>
<rect x="378.97" y="247.15" width="2.90" height="2.90" fill="#0000ff"/>
<rect x="380.38" y="247.15" width="2.90" height="2.90" fill="#0000ff"/>
<rect x="381.80" y="247.15" width="2.90" height="2.90" fill="#0000ff"/>
<rect x="383.22" y="247.15" width="2.90" height="2.90" fill="#0000ff"/>
<rect x="384.64" y="247.15" width="2.90" height="2.90" fill="#0000ff"/>
<rect x="386.06" y="247.15" width="2.90" height="2.90" fill="#0000ff"/>
<rect x="387.47" y="247.15" width="2.90" height="2.90" fill="#0000ff"/>
<rect x="388.89" y="247.15" width="2.90" height="2.90" fill="#0000ff"/>
<rect x="390.31" y="247.15" width="2.90" height="2.90" fill="#0000ff"/>
<rect x="391.72" y="247.15" width="2.90" height="2.90" fill="#0000ff"/>
<rect x="393.14" y="247.15" width="2.90" height="2.90" fill="#0000ff"/>
<rect x="394.56" y="247.15" width="2.90" height="2.90" fill="#0000ff"/>
<rect x="395.98" y="247.15" width="2.90" height="2.90" fill="#0000ff"/>
<rect x="397.39" y="247.15" width="2.90" height="2.90" fill="#0000ff"/>
<rect x="398.81" y="247.15" width="2.90" height="2.90" fill="#0000ff"/>
<rect x="400.23" y="247.15" width="2.90" height="2.90" fill="#0000ff"/>
<rect x="401.65" y="247.15" width="2.90" height="2.90" fill="#0000ff"/>
<rect x="403.06" y="247.15" width="2.90" height="2.90" fill="#0000ff"/>
<rect x="404.48" y="247.15" width="2.90" height="2.90" fill="#0000ff"/>
<rect x="405.90" y="247.15" width="2.90" height="2.90" fill="#0000ff"/>
<rect x="407.32" y="247.15" width="2.90" height="2.90" fill="#0000ff"/>
<rect x="408.73" y="247.15" width="2.90" height="2.90" fill="#0000ff"/>
<rect x="410.15" y="247.15" width="2.90" height="2.90" fill="#0000ff"/>
<rect x="411.57" y="247.15" width="2.90" height="2.90" fill="#0000ff"/>
<rect x="412.99" y="247.15" width="2.90" height="2.90" fill="#0000ff"/>
<rect x="414.40" y="247.15" width="2.90" height="2.90" fill="#0000ff"/>
<rect x="415.82" y="247.15" width="2.90" height="2.90" fill="#0000ff"/>
<rect x="417.24" y="247.15" width="2.90" height="2.90" fill="#0000ff"/>
<rect x="418.66" y="247.15" width="2.90" height="2.90" fill="#0000ff"/>
<rect x="420.07" y="247.15" width="2.90" height="2.90" fill="#0000ff"/>
<rect x="421.49" y="247.15" width="2.90" height="2.90" fill="#0000ff"/>
<rect x="422.91" y="247.15" width="2.90" height="2.90" fill="#0000ff"/>
<rect x="424.33" y="247.15" width="2.90" height="2.90" fill="#0000ff"/>
<rect x="425.75" y="247.15" width="2.90" height="2.90" fill="#0000ff"/>
<rect x="427.16" y="247.15" width="2.90" height="2.90" fill="#0000ff"/>
<rect x="428.58" y="247.15" width="2.90" height="2.90" fill="#0000ff"/>
<rect x="430.00" y="247.15" width="2.90" height="2.90" fill="#0000ff"/>
<rect x="431.42" y="247.15" width="2.90" height="2.90" fill="#0000ff"/>
<rect x="432.83" y="247.15" width="2.90" height="2.90" fill="#0000ff"/>
<rect x="434.25" y="247.15" width="2.90" height="2.90" fill="#0000ff"/>
<rect x="435.67" y="247.15" width="2.90" height="2.90" fill="#0000ff"/>
<rect x="437.08" y="247.15" width="2.90" height="2.90" fill="#0000ff"/>
<rect x="438.50" y="247.15" width="2.90" height="2.90" fill="#0000ff"/>
<rect x="439.92" y="247.15" width="2.90" height="2.90" fill="#0000ff"/>
<rect x="441.34" y="247.15" width="2.90" height="2.90" fill="#0000ff"/>
<rect x="442.75" y="247.15" width="2.90" height="2.90" fill="#0000ff"/>
<rect x="444.17" y="247.15" width="2.90" height="2.90" fill="#0000ff"/>
<rect x="445.59" y="247.15" width="2.90" height="2.90" fill="#0000ff"/>
<rect x="447.01" y="247.15" width="2.90" height="2.90" fill="#0000ff"/>
<rect x="448.43" y="247.15" width="2.90" height="2.90" fill="#0000ff"/>
<rect x="449.84" y="247.15" width="2.90" height="2.90" fill="#0000ff"/>
<rect x="451.26" y="247.15" width="2.90" height="2.90" fill="#0000ff"/>
<rect x="452.68" y="247.15" width="2.90" height="2.90" fill="#0000ff"/>
<rect x="454.09" y="247.15" width="2.90" height="2.90" fill="#0000ff"/>
<rect x="455.51" y="247.15" width="2.90" height="2.90" fill="#0000ff"/>
<rect x="456.93" y="247.15" width="2.90" height="2.90" fill="#0000ff"/>
<rect x="458.35" y="247.15" width="2.90" height="2.90" fill="#0000ff"/>
<rect x="459.76" y="247.15" width="2.90" height="2.90" fill="#0000ff"/>
<rect x="461.18" y="247.15" width="2.90" height="2.90" fill="#0000ff"/>
<rect x="462.60" y="247.15" width="2.90" height="2.90" fill="#0000ff"/>
<rect x="464.02" y="247.15" width="2.90" height="2.90" fill="#0000ff"/>
<rect x="465.44" y="247.15" width="2.90" height="2.90" fill="#0000ff"/>
<rect x="466.85" y="247.15" width="2.90" height="2.90" fill="#0000ff"/>
<rect x="468.27" y="247.15" width="2.90" height="2.90" fill="#0000ff"/>
<rect x="469.69" y="247.15" width="2.90" height="2.90" fill="#0000ff"/>
<rect x="471.10" y="247.15" width="2.90" height="2.90" fill="#0000ff"/>
<rect x="472.52" y="247.15" width="2.90" height="2.90" fill="#0000ff"/>
<rect x="473.94" y="247.15" width="2.90" height="2.90" fill="#0000ff"/>
<rect x="475.36" y="247.15" width="2.90" height="2.90" fill="#0000ff"/>
<rect x="476.77" y="247.15" width="2.90" height="2.90" fill="#0000ff"/>
<rect x="478.19" y="247.15" width="2.90" height="2.90" fill="#0000ff"/>
<rect x="479.61" y="247.15" width="2.90" height="2.90" fill="#0000ff"/>
<rect x="481.03" y="247.14" width="2.90" height="2.90" fill="#0000ff"/>
<rect x="482.44" y="247.12" width="2.90" height="2.90" fill="#0000ff"/>
<rect x="483.86" y="247.09" width="2.90" height="2.90" fill="#0000ff"/>
<rect x="485.28" y="247.06" width="2.90" height="2.90" fill="#0000ff"/>
<rect x="486.70" y="247.02" width="2.90" height="2.90" fill="#0000ff"/>
<rect x="488.12" y="246.97" width="2.90" height="2.90" fill="#0000ff"/>
<rect x="489.53" y="246.92" width="2.90" height="2.90" fill="#0000ff"/>
<rect x="490.95" y="246.86" width="2.90" height="2.90" fill="#0000ff"/>
<rect x="492.37" y="246.79" width="2.90" height="2.90" fill="#0000ff"/>
<rect x="493.78" y="246.71" width="2.90" height="2.90" fill="#0000ff"/>
<rect x="495.20" y="246.63" width="2.90" height="2.90" fill="#0000ff"/>
<rect x="496.62" y="246.55" width="2.90" height="2.90" fill="#0000ff"/>
<rect x="498.04" y="246.45" width="2.90" height="2.90" fill="#0000ff"/>
<rect x="499.45" y="246.35" width="2.90" height="2.90" fill="#0000ff"/>
<rect x="500.87" y="246.24" width="2.90" height="2.90" fill="#0000ff"/>
<rect x="502.29" y="246.13" width="2.90" height="2.90" fill="#0000ff"/>
<rect x="503.71" y="245.94" width="2.90" height="2.90" fill="#0000ff"/>
<rect x="505.12" y="245.67" width="2.90" height="2.90" fill="#0000ff"/>
<rect x="506.54" y="245.31" width="2.90" height="2.90" fill="#0000ff"/>
<rect x="507.96" y="244.88" width="2.90" height="2.90" fill="#0000ff"/>
<rect x="509.38" y="244.39" width="2.90" height="2.90" fill="#0000ff"/>
<rect x="510.80" y="243.86" width="2.90" height="2.90" fill="#0000ff"/>
<rect x="512.21" y="243.30" width="2.90" height="2.90" fill="#0000ff"/>
<rect x="513.63" y="242.72" width="2.90" height="2.90" fill="#0000ff"/>
<rect x="515.05" y="242.12" width="2.90" height="2.90" fill="#0000ff"/>
<rect x="516.46" y="241.45" width="2.90" height="2.90" fill="#0000ff"/>
<rect x="517.88" y="240.68" width="2.90" height="2.90" fill="#0000ff"/>
<rect x="519.30" y="239.83" width="2.90" height="2.90" fill="#0000ff"/>
<rect x="520.72" y="238.91" width="2.90" height="2.90" fill="#0000ff"/>
<rect x="522.13" y="237.94" width="2.90" height="2.90" fill="#0000ff"/>
<rect x="523.55" y="236.93" width="2.90" height="2.90" fill="#0000ff"/>
<rect x="524.97" y="235.91" width="2.90" height="2.90" fill="#0000ff"/>
<rect x="526.39" y="234.85" width="2.90" height="2.90" fill="#0000ff"/>
<rect x="527.80" y="233.75" width="2.90" height="2.90" fill="#0000ff"/>
<rect x="529.22" y="232.58" width="2.90" height="2.90" fill="#0000ff"/>
<rect x="530.64" y="231.36" width="2.90" height="2.90" fill="#0000ff"/>
<rect x="532.06" y="230.07" width="2.90" height="2.90" fill="#0000ff"/>
<rect x="533.47" y="228.73" width="2.90" height="2.90" fill="#0000ff"/>
<rect x="534.89" y="227.32" width="2.90" height="2.90" fill="#0000ff"/>
<rect x="536.31" y="225.83" width="2.90" height="2.90" fill="#0000ff"/>
<rect x="537.73" y="224.24" width="2.90" height="2.90" fill="#0000ff"/>
<rect x="539.14" y="222.55" width="2.90" height="2.90" fill="#0000ff"/>
<rect x="540.56" y="220.77" width="2.90" height="2.90" fill="#0000ff"/>
<rect x="541.98" y="218.93" width="2.90" height="2.90" fill="#0000ff"/>
<rect x="543.40" y="217.01" width="2.90" height="2.90" fill="#0000ff"/>
<rect x="544.81" y="215.05" width="2.90" height="2.90" fill="#0000ff"/>
<rect x="546.23" y="213.02" width="2.90" height="2.90" fill="#0000ff"/>
<rect x="547.65" y="210.88" width="2.90" height="2.90" fill="#0000ff"/>
<rect x="549.07" y="208.63" width="2.90" height="2.90" fill="#0000ff"/>
<rect x="550.48" y="206.30" width="2.90" height="2.90" fill="#0000ff"/>
<rect x="551.90" y="203.92" width="2.90" height="2.90" fill="#0000ff"/>
<rect x="553.32" y="201.51" width="2.90" height="2.90" fill="#0000ff"/>
<rect x="554.74" y="199.10" width="2.90" height="2.90" fill="#0000ff"/>
<rect x="556.15" y="196.69" width="2.90" height="2.90" fill="#0000ff"/>
<rect x="557.57" y="194.26" width="2.90" height="2.90" fill="#0000ff"/>
<rect x="558.99" y="191.78" width="2.90" height="2.90" fill="#0000ff"/>
<rect x="560.41" y="189.28" width="2.90" height="2.90" fill="#0000ff"/>
<rect x="561.82" y="186.76" width="2.90" height="2.90" fill="#0000ff"/>
<rect x="563.24" y="184.25" width="2.90" height="2.90" fill="#0000ff"/>
<rect x="564.66" y="181.74" width="2.90" height="2.90" fill="#0000ff"/>
<rect x="566.08" y="179.25" width="2.90" height="2.90" fill="#0000ff"/>
<rect x="567.49" y="176.78" width="2.90" height="2.90" fill="#0000ff"/>
<rect x="568.91" y="174.32" width="2.90" height="2.90" fill="#0000ff"/>
<rect x="570.33" y="171.86" width="2.90" height="2.90" fill="#0000ff"/>
<rect x="571.75" y="169.40" width="2.90" height="2.90" fill="#0000ff"/>
<rect x="573.16" y="166.95" width="2.90" height="2.90" fill="#0000ff"/>
<rect x="574.58" y="164.48" width="2.90" height="2.90" fill="#0000ff"/>
<rect x="576.00" y="162.01" width="2.90" height="2.90" fill="#0000ff"/>
<rect x="577.42" y="159.53" width="2.90" height="2.90" fill="#0000ff"/>
<rect x="578.83" y="157.02" width="2.90" height="2.90" fill="#0000ff"/>
<rect x="580.25" y="154.51" width="2.90" height="2.90" fill="#0000ff"/>
<rect x="581.67" y="152.00" width="2.90" height="2.90" fill="#0000ff"/>
<rect x="583.09" y="149.50" width="2.90" height="2.90" fill="#0000ff"/>
<rect x="584.50" y="147.02" width="2.90" height="2.90" fill="#0000ff"/>
<rect x="585.92" y="144.58" width="2.90" height="2.90" fill="#0000ff"/>
<rect x="587.34" y="142.19" width="2.90" height="2.90" fill="#0000ff"/>
<rect x="588.76" y="139.86" width="2.90" height="2.90" fill="#0000ff"/>
<rect x="590.17" y="137.57" width="2.90" height="2.90" fill="#0000ff"/>
<rect x="591.59" y="135.29" width="2.90" height="2.90" fill="#0000ff"/>
<rect x="593.01" y="133.00" width="2.90" height="2.90" fill="#0000ff"/>
<rect x="594.43" y="130.67" width="2.90" height="2.90" fill="#0000ff"/>
<rect x="595.84" y="128.28" width="2.90" height="2.90" fill="#0000ff"/>
<rect x="597.26" y="125.79" width="2.90" height="2.90" fill="#0000ff"/>
<rect x="598.68" y="123.24" width="2.90" height="2.90" fill="#0000ff"/>
<rect x="600.10" y="120.62" width="2.90" height="2.90" fill="#0000ff"/>
<rect x="601.51" y="117.95" width="2.90" height="2.90" fill="#0000ff"/>
<rect x="602.93" y="115.23" width="2.90" height="2.90" fill="#0000ff"/>
<rect x="604.35" y="112.46" width="2.90" height="2.90" fill="#0000ff"/>
<rect x="377.55" y="247.15" width="2.90" height="2.90" fill="#00ffff"/>
<rect x="378.97" y="247.15" width="2.90" height="2.90" fill="#00ffff"/>
<rect x="380.38" y="247.15" width="2.90" height="2.90" fill="#00ffff"/>
<rect x="381.80" y="247.15" width="2.90" height="2.90" fill="#00ffff"/>
<rect x="383.22" y="247.15" width="2.90" height="2.90" fill="#00ffff"/>
<rect x="384.64" y="247.15" width="2.90" height="2.90" fill="#00ffff"/>
<rect x="386.06" y="247.15" width="2.90" height="2.90" fill="#00ffff"/>
<rect x="387.47" y="247.15" width="2.90" height="2.90" fill="#00ffff"/>
<rect x="388.89" y="247.15" width="2.90" height="2.90" fill="#00ffff"/>
<rect x="390.31" y="247.15" width="2.90" height="2.90" fill="#00ffff"/>
<rect x="391.72" y="247.15" width="2.90" height="2.90" fill="#00ffff"/>
<rect x="393.14" y="247.15" width="2.90" height="2.90" fill="#00ffff"/>
<rect x="394.56" y="247.15" width="2.90" height="2.90" fill="#00ffff"/>
<rect x="395.98" y="247.15" width="2.90" height="2.90" fill="#00ffff"/>
<rect x="397.39" y="247.15" width="2.90" height="2.90" fill="#00ffff"/>
<rect x="398.81" y="247.15" width="2.90" height="2.90" fill="#00ffff"/>
<rect x="400.23" y="247.15" width="2.90" height="2.90" fill="#00ffff"/>
<rect x="401.65" y="247.15" width="2.90" height="2.90" fill="#00ffff"/>
<rect x="403.06" y="247.15" width="2.90" height="2.90" fill="#00ffff"/>
<rect x="404.48" y="247.15" width="2.90" height="2.90" fill="#00ffff"/>
<rect x="405.90" y="247.15" width="2.90" height="2.90" fill="#00ffff"/>
<rect x="407.32" y="247.15" width="2.90" height="2.90" fill="#00ffff"/>
<rect x="408.73" y="247.15" width="2.90" height="2.90" fill="#00ffff"/>
<rect x="410.15" y="247.15" width="2.90" height="2.90" fill="#00ffff"/>
<rect x="411.57" y="247.15" width="2.90" height="2.90" fill="#00ffff"/>
<rect x="412.99" y="247.15" width="2.90" height="2.90" fill="#00ffff"/>
<rect x="414.40" y="247.15" width="2.90" height="2.90" fill="#00ffff"/>
<rect x="415.82" y="247.15" width="2.90" height="2.90" fill="#00ffff"/>
<rect x="417.24" y="247.15" width="2.90" height="2.90" fill="#00ffff"/>
<rect x="418.66" y="247.15" width="2.90" height="2.90" fill="#00ffff"/>
<rect x="420.07" y="247.15" width="2.90" height="2.90" fill="#00ffff"/>
<rect x="421.49" y="247.15" width="2.90" height="2.90" fill="#00ffff"/>
<rect x="422.91" y="247.15" width="2.90" height="2.90" fill="#00ffff"/>
<rect x="424.33" y="247.15" width="2.90" height="2.90" fill="#00ffff"/>
<rect x="425.75" y="247.15" width="2.90" height="2.90" fill="#00ffff"/>
<rect x="427.16" y="247.15" width="2.90" height="2.90" fill="#00ffff"/>
<rect x="428.58" y="247.15" width="2.90" height="2.90" fill="#00ffff"/>
<rect x="430.00" y="247.15" width="2.90" height="2.90" fill="#00ffff"/>
<rect x="431.42" y="247.15" width="2.90" height="2.90" fill="#00ffff"/>
<rect x="432.83" y="247.15" width="2.90" height="2.90" fill="#00ffff"/>
<rect x="434.25" y="247.15" width="2.90" height="2.90" fill="#00ffff"/>
<rect x="435.67" y="247.15" width="2.90" height="2.90" fill="#00ffff"/>
<rect x="437.08" y="247.15" width="2.90" height="2.90" fill="#00ffff"/>
<rect x="438.50" y="247.15" width="2.90" height="2.90" fill="#00ffff"/>
<rect x="439.92" y="247.15" width="2.90" height="2.90" fill="#00ffff"/>
<rect x="441.34" y="247.15" width="2.90" height="2.90" fill="#00ffff"/>
<rect x="442.75" y="247.15" width="2.90" height="2.90" fill="#00ffff"/>
<rect x="444.17" y="247.15" width="2.90" height="2.90" fill="#00ffff"/>
<rect x="445.59" y="247.15" width="2.90" height="2.90" fill="#00ffff"/>
<rect x="447.01" y="247.15" width="2.90" height="2.90" fill="#00ffff"/>
<rect x="448.43" y="247.15" width="2.90" height="2.90" fill="#00ffff"/>
<rect x="449.84" y="247.15" width="2.90" height="2.90" fill="#00ffff"/>
<rect x="451.26" y="247.15" width="2.90" height="2.90" fill="#00ffff"/>
<rect x="452.68" y="247.15" width="2.90" height="2.90" fill="#00ffff"/>
<rect x="454.09" y="247.15" width="2.90" height="2.90" fill="#00ffff"/>
<rect x="455.51" y="247.15" width="2.90" height="2.90" fill="#00ffff"/>
<rect x="456.93" y="247.15" width="2.90" height="2.90" fill="#00ffff"/>
<rect x="458.35" y="247.15" width="2.90" height="2.90" fill="#00ffff"/>
<rect x="459.76" y="247.15" width="2.90" height="2.90" fill="#00ffff"/>
<rect x="461.18" y="247.15" width="2.90" height="2.90" fill="#00ffff"/>
<rect x="462.60" y="247.15" width="2.90" height="2.90" fill="#00ffff"/>
<rect x="464.02" y="247.15" width="2.90" height="2.90" fill="#00ffff"/>
<rect x="465.44" y="247.15" width="2.90" height="2.90" fill="#00ffff"/>
<rect x="466.85" y="247.15" width="2.90" height="2.90" fill="#00ffff"/>
<rect x="468.27" y="247.15" width="2.90" height="2.90" fill="#00ffff"/>
<rect x="469.69" y="247.15" width="2.90" height="2.90" fill="#00ffff"/>
<rect x="471.10" y="247.15" width="2.90" height="2.90" fill="#00ffff"/>
<rect x="472.52" y="247.15" width="2.90" height="2.90" fill="#00ffff"/>
<rect x="473.94" y="247.15" width="2.90" height="2.90" fill="#00ffff"/>
<rect x="475.36" y="247.15" width="2.90" height="2.90" fill="#00ffff"/>
<rect x="476.77" y="247.15" width="2.90" height="2.90" fill="#00ffff"/>
<rect x="478.19" y="247.15" width="2.90" height="2.90" fill="#00ffff"/>
<rect x="479.61" y="247.15" width="2.90" height="2.90" fill="#00ffff"/>
<rect x="481.03" y="247.15" width="2.90" height="2.90" fill="#00ffff"/>
<rect x="482.44" y="247.15" width="2.90" height="2.90" fill="#00ffff"/>
<rect x="483.86" y="247.15" width="2.90" height="2.90" fill="#00ffff"/>
<rect x="485.28" y="247.15" width="2.90" height="2.90" fill="#00ffff"/>
<rect x="486.70" y="247.15" width="2.90" height="2.90" fill="#00ffff"/>
<rect x="488.12" y="247.15" width="2.90" height="2.90" fill="#00ffff"/>
<rect x="489.53" y="247.15" width="2.90" height="2.90" fill="#00ffff"/>
<rect x="490.95" y="247.15" width="2.90" height="2.90" fill="#00ffff"/>
<rect x="492.37" y="247.14" width="2.90" height="2.90" fill="#00ffff"/>
<rect x="493.78" y="247.13" width="2.90" height="2.90" fill="#00ffff"/>
<rect x="495.20" y="247.10" width="2.90" height="2.90" fill="#00ffff"/>
<rect x="496.62" y="247.07" width="2.90" height="2.90" fill="#00ffff"/>
<rect x="498.04" y="247.03" width="2.90" height="2.90" fill="#00ffff"/>
<rect x="499.45" y="246.98" width="2.90" height="2.90" fill="#00ffff"/>
<rect x="500.87" y="246.92" width="2.90" height="2.90" fill="#00ffff"/>
<rect x="502.29" y="246.85" width="2.90" height="2.90" fill="#00ffff"/>
<rect x="503.71" y="246.78" width="2.90" height="2.90" fill="#00ffff"/>
<rect x="505.12" y="246.69" width="2.90" height="2.90" fill="#00ffff"/>
<rect x="506.54" y="246.60" width="2.90" height="2.90" fill="#00ffff"/>
<rect x="507.96" y="246.51" width="2.90" height="2.90" fill="#00ffff"/>
<rect x="509.38" y="246.40" width="2.90" height="2.90" fill="#00ffff"/>
<rect x="510.80" y="246.29" width="2.90" height="2.90" fill="#00ffff"/>
<rect x="512.21" y="246.18" width="2.90" height="2.90" fill="#00ffff"/>
<rect x="513.63" y="246.05" width="2.90" height="2.90" fill="#00ffff"/>
<rect x="515.05" y="245.92" width="2.90" height="2.90" fill="#00ffff"/>
<rect x="516.46" y="245.71" width="2.90" height="2.90" fill="#00ffff"/>
<rect x="517.88" y="245.39" width="2.90" height="2.90" fill="#00ffff"/>
<rect x="519.30" y="244.99" width="2.90" height="2.90" fill="#00ffff"/>
<rect x="520.72" y="244.52" width="2.90" height="2.90" fill="#00ffff"/>
<rect x="522.13" y="244.00" width="2.90" height="2.90" fill="#00ffff"/>
<rect x="523.55" y="243.43" width="2.90" height="2.90" fill="#00ffff"/>
<rect x="524.97" y="242.84" width="2.90" height="2.90" fill="#00ffff"/>
<rect x="526.39" y="242.24" width="2.90" height="2.90" fill="#00ffff"/>
<rect x="527.80" y="241.64" width="2.90" height="2.90" fill="#00ffff"/>
<rect x="529.22" y="241.01" width="2.90" height="2.90" fill="#00ffff"/>
<rect x="530.64" y="240.33" width="2.90" height="2.90" fill="#00ffff"/>
<rect x="532.06" y="239.60" width="2.90" height="2.90" fill="#00ffff"/>
<rect x="533.47" y="238.82" width="2.90" height="2.90" fill="#00ffff"/>
<rect x="534.89" y="238.00" width="2.90" height="2.90" fill="#00ffff"/>
<rect x="536.31" y="237.14" width="2.90" height="2.90" fill="#00ffff"/>
<rect x="537.73" y="236.25" width="2.90" height="2.90" fill="#00ffff"/>
<rect x="539.14" y="235.32" width="2.90" height="2.90" fill="#00ffff"/>
<rect x="540.56" y="234.37" width="2.90" height="2.90" fill="#00ffff"/>
<rect x="541.98" y="233.39" width="2.90" height="2.90" fill="#00ffff"/>
<rect x="543.40" y="232.36" width="2.90" height="2.90" fill="#00ffff"/>
<rect x="544.81" y="231.27" width="2.90" height="2.90" fill="#00ffff"/>
<rect x="546.23" y="230.12" width="2.90" height="2.90" fill="#00ffff"/>
<rect x="547.65" y="228.92" width="2.90" height="2.90" fill="#00ffff"/>
<rect x="549.07" y="227.68" width="2.90" height="2.90" fill="#00ffff"/>
<rect x="550.48" y="226.40" width="2.90" height="2.90" fill="#00ffff"/>
<rect x="551.90" y="225.09" width="2.90" height="2.90" fill="#00ffff"/>
<rect x="553.32" y="223.75" width="2.90" height="2.90" fill="#00ffff"/>
<rect x="554.74" y="222.40" width="2.90" height="2.90" fill="#00ffff"/>
<rect x="556.15" y="221.03" width="2.90" height="2.90" fill="#00ffff"/>
<rect x="557.57" y="219.66" width="2.90" height="2.90" fill="#00ffff"/>
<rect x="558.99" y="218.29" width="2.90" height="2.90" fill="#00ffff"/>
<rect x="560.41" y="216.92" width="2.90" height="2.90" fill="#00ffff"/>
<rect x="561.82" y="215.52" width="2.90" height="2.90" fill="#00ffff"/>
<rect x="563.24" y="214.10" width="2.90" height="2.90" fill="#00ffff"/>
<rect x="564.66" y="212.65" width="2.90" height="2.90" fill="#00ffff"/>
<rect x="566.08" y="211.18" width="2.90" height="2.90" fill="#00ffff"/>
<rect x="567.49" y="209.69" width="2.90" height="2.90" fill="#00ffff"/>
<rect x="568.91" y="208.19" width="2.90" height="2.90" fill="#00ffff"/>
<rect x="570.33" y="206.67" width="2.90" height="2.90" fill="#00ffff"/>
<rect x="571.75" y="205.14" width="2.90" height="2.90" fill="#00ffff"/>
<rect x="573.16" y="203.61" width="2.90" height="2.90" fill="#00ffff"/>
<rect x="574.58" y="202.07" width="2.90" height="2.90" fill="#00ffff"/>
<rect x="576.00" y="200.53" width="2.90" height="2.90" fill="#00ffff"/>
<rect x="577.42" y="198.99" width="2.90" height="2.90" fill="#00ffff"/>
<rect x="578.83" y="197.46" width="2.90" height="2.90" fill="#00ffff"/>
<rect x="580.25" y="195.91" width="2.90" height="2.90" fill="#00ffff"/>
<rect x="581.67" y="194.36" width="2.90" height="2.90" fill="#00ffff"/>
<rect x="583.09" y="192.81" width="2.90" height="2.90" fill="#00ffff"/>
<rect x="584.50" y="191.24" width="2.90" height="2.90" fill="#00ffff"/>
<rect x="585.92" y="189.68" width="2.90" height="2.90" fill="#00ffff"/>
<rect x="587.34" y="188.10" width="2.90" height="2.90" fill="#00ffff"/>
<rect x="588.76" y="186.52" width="2.90" height="2.90" fill="#00ffff"/>
<rect x="590.17" y="184.93" width="2.90" height="2.90" fill="#00ffff"/>
<rect x="591.59" y="183.34" width="2.90" height="2.90" fill="#00ffff"/>
<rect x="593.01" y="181.74" width="2.90" height="2.90" fill="#00ffff"/>
<rect x="594.43" y="180.14" width="2.90" height="2.90" fill="#00ffff"/>
<rect x="595.84" y="178.52" width="2.90" height="2.90" fill="#00ffff"/>
<rect x="597.26" y="176.90" width="2.90" height="2.90" fill="#00ffff"/>
<rect x="598.68" y="175.28" width="2.90" height="2.90" fill="#00ffff"/>
<rect x="600.10" y="173.64" width="2.90" height="2.90" fill="#00ffff"/>
<rect x="601.51" y="172.00" width="2.90" height="2.90" fill="#00ffff"/>
<rect x="602.93" y="170.35" width="2.90" height="2.90" fill="#00ffff"/>
<rect x="604.35" y="168.70" width="2.90" height="2.90" fill="#00ffff"/>
<rect x="377.55" y="247.15" width="2.90" height="2.90" fill="#ff00ff"/>
<rect x="378.97" y="247.15" width="2.90" height="2.90" fill="#ff00ff"/>
<rect x="380.38" y="247.15" width="2.90" height="2.90" fill="#ff00ff"/>
<rect x="381.80" y="247.15" width="2.90" height="2.90" fill="#ff00ff"/>
<rect x="383.22" y="247.15" width="2.90" height="2.90" fill="#ff00ff"/>
<rect x="384.64" y="247.15" width="2.90" height="2.90" fill="#ff00ff"/>
<rect x="386.06" y="247.15" width="2.90" height="2.90" fill="#ff00ff"/>
<rect x="387.47" y="247.15" width="2.90" height="2.90" fill="#ff00ff"/>
<rect x="388.89" y="247.15" width="2.90" height="2.90" fill="#ff00ff"/>
<rect x="390.31" y="247.15" width="2.90" height="2.90" fill="#ff00ff"/>
<rect x="391.72" y="247.15" width="2.90" height="2.90" fill="#ff00ff"/>
<rect x="393.14" y="247.15" width="2.90" height="2.90" fill="#ff00ff"/>
<rect x="394.56" y="247.15" width="2.90" height="2.90" fill="#ff00ff"/>
<rect x="395.98" y="247.15" width="2.90" height="2.90" fill="#ff00ff"/>
<rect x="397.39" y="247.15" width="2.90" height="2.90" fill="#ff00ff"/>
<rect x="398.81" y="247.15" width="2.90" height="2.90" fill="#ff00ff"/>
<rect x="400.23" y="247.15" width="2.90" height="2.90" fill="#ff00ff"/>
<rect x="401.65" y="247.15" width="2.90" height="2.90" fill="#ff00ff"/>
<rect x="403.06" y="247.15" width="2.90" height="2.90" fill="#ff00ff"/>
<rect x="404.48" y="247.15" width="2.90" height="2.90" fill="#ff00ff"/>
<rect x="405.90" y="247.15" width="2.90" height="2.90" fill="#ff00ff"/>
<rect x="407.32" y="247.15" width="2.90" height="2.90" fill="#ff00ff"/>
<rect x="408.73" y="247.15" width="2.90" height="2.90" fill="#ff00ff"/>
<rect x="410.15" y="247.15" width="2.90" height="2.90" fill="#ff00ff"/>
<rect x="411.57" y="247.15" width="2.90" height="2.90" fill="#ff00ff"/>
<rect x="412.99" y="247.15" width="2.90" height="2.90" fill="#ff00ff"/>
<rect x="414.40" y="247.15" width="2.90" height="2.90" fill="#ff00ff"/>
<rect x="415.82" y="247.15" width="2.90" height="2.90" fill="#ff00ff"/>
<rect x="417.24" y="247.15" width="2.90" height="2.90" fill="#ff00ff"/>
<rect x="418.66" y="247.15" width="2.90" height="2.90" fill="#ff00ff"/>
<rect x="420.07" y="247.15" width="2.90" height="2.90" fill="#ff00ff"/>
<rect x="421.49" y="247.15" width="2.90" height="2.90" fill="#ff00ff"/>
<rect x="422.91" y="247.15" width="2.90" height="2.90" fill="#ff00ff"/>
<rect x="424.33" y="247.15" width="2.90" height="2.90" fill="#ff00ff"/>
<rect x="425.75" y="247.15" width="2.90" height="2.90" fill="#ff00ff"/>
<rect x="427.16" y="247.15" width="2.90" height="2.90" fill="#ff00ff"/>
<rect x="428.58" y="247.15" width="2.90" height="2.90" fill="#ff00ff"/>
<rect x="430.00" y="247.15" width="2.90" height="2.90" fill="#ff00ff"/>
<rect x="431.42" y="247.15" width="2.90" height="2.90" fill="#ff00ff"/>
<rect x="432.83" y="247.15" width="2.90" height="2.90" fill="#ff00ff"/>
<rect x="434.25" y="247.15" width="2.90" height="2.90" fill="#ff00ff"/>
<rect x="435.67" y="247.15" width="2.90" height="2.90" fill="#ff00ff"/>
<rect x="437.08" y="247.15" width="2.90" height="2.90" fill="#ff00ff"/>
<rect x="438.50" y="247.15" width="2.90" height="2.90" fill="#ff00ff"/>
<rect x="439.92" y="247.15" width="2.90" height="2.90" fill="#ff00ff"/>
<rect x="441.34" y="247.15" width="2.90" height="2.90" fill="#ff00ff"/>
<rect x="442.75" y="247.15" width="2.90" height="2.90" fill="#ff00ff"/>
<rect x="444.17" y="247.15" width="2.90" height="2.90" fill="#ff00ff"/>
<rect x="445.59" y="247.15" width="2.90" height="2.90" fill="#ff00ff"/>
<rect x="447.01" y="247.15" width="2.90" height="2.90" fill="#ff00ff"/>
<rect x="448.43" y="247.15" width="2.90" height="2.90" fill="#ff00ff"/>
<rect x="449.84" y="247.15" width="2.90" height="2.90" fill="#ff00ff"/>
<rect x="451.26" y="247.15" width="2.90" height="2.90" fill="#ff00ff"/>
<rect x="452.68" y="247.15" width="2.90" height="2.90" fill="#ff00ff"/>
<rect x="454.09" y="247.15" width="2.90" height="2.90" fill="#ff00ff"/>
<rect x="455.51" y="247.15" width="2.90" height="2.90" fill="#ff00ff"/>
<rect x="456.93" y="247.15" width="2.90" height="2.90" fill="#ff00ff"/>
<rect x="458.35" y="247.15" width="2.90" height="2.90" fill="#ff00ff"/>
<rect x="459.76" y="247.15" width="2.90" height="2.90" fill="#ff00ff"/>
<rect x="461.18" y="247.15" width="2.90" height="2.90" fill="#ff00ff"/>
<rect x="462.60" y="247.15" width="2.90" height="2.90" fill="#ff00ff"/>
<rect x="464.02" y="247.15" width="2.90" height="2.90" fill="#ff00ff"/>
<rect x="465.44" y="247.15" width="2.90" height="2.90" fill="#ff00ff"/>
<rect x="466.85" y="247.15" width="2.90" height="2.90" fill="#ff00ff"/>
<rect x="468.27" y="247.15" width="2.90" height="2.90" fill="#ff00ff"/>
<rect x="469.69" y="247.15" width="2.90" height="2.90" fill="#ff00ff"/>
<rect x="471.10" y="247.15" width="2.90" height="2.90" fill="#ff00ff"/>
<rect x="472.52" y="247.15" width="2.90" height="2.90" fill="#ff00ff"/>
<rect x="473.94" y="247.15" width="2.90" height="2.90" fill="#ff00ff"/>
<rect x="475.36" y="247.15" width="2.90" height="2.90" fill="#ff00ff"/>
<rect x="476.77" y="247.15" width="2.90" height="2.90" fill="#ff00ff"/>
<rect x="478.19" y="247.15" width="2.90" height="2.90" fill="#ff00ff"/>
<rect x="479.61" y="247.15" width="2.90" height="2.90" fill="#ff00ff"/>
<rect x="481.03" y="247.15" width="2.90" height="2.90" fill="#ff00ff"/>
<rect x="482.44" y="247.15" width="2.90" height="2.90" fill="#ff00ff"/>
<rect x="483.86" y="247.15" width="2.90" height="2.90" fill="#ff00ff"/>
<rect x="485.28" y="247.15" width="2.90" height="2.90" fill="#ff00ff"/>
<rect x="486.70" y="247.15" width="2.90" height="2.90" fill="#ff00ff"/>
<rect x="488.12" y="247.15" width="2.90" height="2.90" fill="#ff00ff"/>
<rect x="489.53" y="247.15" width="2.90" height="2.90" fill="#ff00ff"/>
<rect x="490.95" y="247.15" width="2.90" height="2.90" fill="#ff00ff"/>
<rect x="492.37" y="247.15" width="2.90" height="2.90" fill="#ff00ff"/>
<rect x="493.78" y="247.15" width="2.90" height="2.90" fill="#ff00ff"/>
<rect x="495.20" y="247.14" width="2.90" height="2.90" fill="#ff00ff"/>
<rect x="496.62" y="247.10" width="2.90" height="2.90" fill="#ff00ff"/>
<rect x="498.04" y="247.05" width="2.90" height="2.90" fill="#ff00ff"/>
<rect x="499.45" y="246.99" width="2.90" height="2.90" fill="#ff00ff"/>
<rect x="500.87" y="246.90" width="2.90" height="2.90" fill="#ff00ff"/>
<rect x="502.29" y="246.81" width="2.90" height="2.90" fill="#ff00ff"/>
<rect x="503.71" y="246.69" width="2.90" height="2.90" fill="#ff00ff"/>
<rect x="505.12" y="246.57" width="2.90" height="2.90" fill="#ff00ff"/>
<rect x="506.54" y="246.43" width="2.90" height="2.90" fill="#ff00ff"/>
<rect x="507.96" y="246.28" width="2.90" height="2.90" fill="#ff00ff"/>
<rect x="509.38" y="246.13" width="2.90" height="2.90" fill="#ff00ff"/>
<rect x="510.80" y="245.96" width="2.90" height="2.90" fill="#ff00ff"/>
<rect x="512.21" y="245.79" width="2.90" height="2.90" fill="#ff00ff"/>
<rect x="513.63" y="245.61" width="2.90" height="2.90" fill="#ff00ff"/>
<rect x="515.05" y="245.42" width="2.90" height="2.90" fill="#ff00ff"/>
<rect x="516.46" y="245.23" width="2.90" height="2.90" fill="#ff00ff"/>
<rect x="517.88" y="245.04" width="2.90" height="2.90" fill="#ff00ff"/>
<rect x="519.30" y="244.84" width="2.90" height="2.90" fill="#ff00ff"/>
<rect x="520.72" y="244.60" width="2.90" height="2.90" fill="#ff00ff"/>
<rect x="522.13" y="244.31" width="2.90" height="2.90" fill="#ff00ff"/>
<rect x="523.55" y="243.99" width="2.90" height="2.90" fill="#ff00ff"/>
<rect x="524.97" y="243.63" width="2.90" height="2.90" fill="#ff00ff"/>
<rect x="526.39" y="243.24" width="2.90" height="2.90" fill="#ff00ff"/>
<rect x="527.80" y="242.83" width="2.90" height="2.90" fill="#ff00ff"/>
<rect x="529.22" y="242.39" width="2.90" height="2.90" fill="#ff00ff"/>
<rect x="530.64" y="241.93" width="2.90" height="2.90" fill="#ff00ff"/>
<rect x="532.06" y="241.45" width="2.90" height="2.90" fill="#ff00ff"/>
<rect x="533.47" y="240.96" width="2.90" height="2.90" fill="#ff00ff"/>
<rect x="534.89" y="240.47" width="2.90" height="2.90" fill="#ff00ff"/>
<rect x="536.31" y="239.96" width="2.90" height="2.90" fill="#ff00ff"/>
<rect x="537.73" y="239.46" width="2.90" height="2.90" fill="#ff00ff"/>
<rect x="539.14" y="238.93" width="2.90" height="2.90" fill="#ff00ff"/>
<rect x="540.56" y="238.36" width="2.90" height="2.90" fill="#ff00ff"/>
<rect x="541.98" y="237.76" width="2.90" height="2.90" fill="#ff00ff"/>
<rect x="543.40" y="237.13" width="2.90" height="2.90" fill="#ff00ff"/>
<rect x="544.81" y="236.47" width="2.90" height="2.90" fill="#ff00ff"/>
<rect x="546.23" y="235.79" width="2.90" height="2.90" fill="#ff00ff"/>
<rect x="547.65" y="235.10" width="2.90" height="2.90" fill="#ff00ff"/>
<rect x="549.07" y="234.41" width="2.90" height="2.90" fill="#ff00ff"/>
<rect x="550.48" y="233.71" width="2.90" height="2.90" fill="#ff00ff"/>
<rect x="551.90" y="233.02" width="2.90" height="2.90" fill="#ff00ff"/>
<rect x="553.32" y="232.34" width="2.90" height="2.90" fill="#ff00ff"/>
<rect x="554.74" y="231.65" width="2.90" height="2.90" fill="#ff00ff"/>
<rect x="556.15" y="230.96" width="2.90" height="2.90" fill="#ff00ff"/>
<rect x="557.57" y="230.25" width="2.90" height="2.90" fill="#ff00ff"/>
<rect x="558.99" y="229.54" width="2.90" height="2.90" fill="#ff00ff"/>
<rect x="560.41" y="228.81" width="2.90" height="2.90" fill="#ff00ff"/>
<rect x="561.82" y="228.06" width="2.90" height="2.90" fill="#ff00ff"/>
<rect x="563.24" y="227.28" width="2.90" height="2.90" fill="#ff00ff"/>
<rect x="564.66" y="226.49" width="2.90" height="2.90" fill="#ff00ff"/>
<rect x="566.08" y="225.65" width="2.90" height="2.90" fill="#ff00ff"/>
<rect x="567.49" y="224.79" width="2.90" height="2.90" fill="#ff00ff"/>
<rect x="568.91" y="223.89" width="2.90" height="2.90" fill="#ff00ff"/>
<rect x="570.33" y="222.97" width="2.90" height="2.90" fill="#ff00ff"/>
<rect x="571.75" y="222.03" width="2.90" height="2.90" fill="#ff00ff"/>
<rect x="573.16" y="221.08" width="2.90" height="2.90" fill="#ff00ff"/>
<rect x="574.58" y="220.13" width="2.90" height="2.90" fill="#ff00ff"/>
<rect x="576.00" y="219.18" width="2.90" height="2.90" fill="#ff00ff"/>
<rect x="577.42" y="218.24" width="2.90" height="2.90" fill="#ff00ff"/>
<rect x="578.83" y="217.30" width="2.90" height="2.90" fill="#ff00ff"/>
<rect x="580.25" y="216.36" width="2.90" height="2.90" fill="#ff00ff"/>
<rect x="581.67" y="215.42" width="2.90" height="2.90" fill="#ff00ff"/>
<rect x="583.09" y="214.47" width="2.90" height="2.90" fill="#ff00ff"/>
<rect x="584.50" y="213.53" width="2.90" height="2.90" fill="#ff00ff"/>
<rect x="585.92" y="212.58" width="2.90" height="2.90" fill="#ff00ff"/>
<rect x="587.34" y="211.62" width="2.90" height="2.90" fill="#ff00ff"/>
<rect x="588.76" y="210.67" width="2.90" height="2.90" fill="#ff00ff"/>
<rect x="590.17" y="209.71" width="2.90" height="2.90" fill="#ff00ff"/>
<rect x="591.59" y="208.75" width="2.90" height="2.90" fill="#ff00ff"/>
<rect x="593.01" y="207.78" width="2.90" height="2.90" fill="#ff00ff"/>
<rect x="594.43" y="206.81" width="2.90" height="2.90" fill="#ff00ff"/>
<rect x="595.84" y="205.84" width="2.90" height="2.90" fill="#ff00ff"/>
<rect x="597.26" y="204.87" width="2.90" height="2.90" fill="#ff00ff"/>
<rect x="598.68" y="203.89" width="2.90" height="2.90" fill="#ff00ff"/>
<rect x="600.10" y="202.91" width="2.90" height="2.90" fill="#ff00ff"/>
<rect x="601.51" y="201.92" width="2.90" height="2.90" fill="#ff00ff"/>
<rect x="602.93" y="200.93" width="2.90" height="2.90" fill="#ff00ff"/>
<rect x="604.35" y="199.94" width="2.90" height="2.90" fill="#ff00ff"/>
<rect x="377.55" y="247.15" width="2.90" height="2.90" fill="#808000"/>
<rect x="378.97" y="247.15" width="2.90" height="2.90" fill="#808000"/>
<rect x="380.38" y="247.15" width="2.90" height="2.90" fill="#808000"/>
<rect x="381.80" y="247.15" width="2.90" height="2.90" fill="#808000"/>
<rect x="383.22" y="247.15" width="2.90" height="2.90" fill="#808000"/>
<rect x="384.64" y="247.15" width="2.90" height="2.90" fill="#808000"/>
<rect x="386.06" y="247.15" width="2.90" height="2.90" fill="#808000"/>
<rect x="387.47" y="247.15" width="2.90" height="2.90" fill="#808000"/>
<rect x="388.89" y="247.15" width="2.90" height="2.90" fill="#808000"/>
<rect x="390.31" y="247.15" width="2.90" height="2.90" fill="#808000"/>
<rect x="391.72" y="247.15" width="2.90" height="2.90" fill="#808000"/>
<rect x="393.14" y="247.15" width="2.90" height="2.90" fill="#808000"/>
<rect x="394.56" y="247.15" width="2.90" height="2.90" fill="#808000"/>
<rect x="395.98" y="247.15" width="2.90" height="2.90" fill="#808000"/>
<rect x="397.39" y="247.15" width="2.90" height="2.90" fill="#808000"/>
<rect x="398.81" y="247.15" width="2.90" height="2.90" fill="#808000"/>
<rect x="400.23" y="247.15" width="2.90" height="2.90" fill="#808000"/>
<rect x="401.65" y="247.15" width="2.90" height="2.90" fill="#808000"/>
<rect x="403.06" y="247.15" width="2.90" height="2.90" fill="#808000"/>
<rect x="404.48" y="247.15" width="2.90" height="2.90" fill="#808000"/>
<rect x="405.90" y="247.15" width="2.90" height="2.90" fill="#808000"/>
<rect x="407.32" y="247.15" width="2.90" height="2.90" fill="#808000"/>
<rect x="408.73" y="247.15" width="2.90" height="2.90" fill="#808000"/>
<rect x="410.15" y="247.15" width="2.90" height="2.90" fill="#808000"/>
<rect x="411.57" y="247.15" width="2.90" height="2.90" fill="#808000"/>
<rect x="412.99" y="247.15" width="2.90" height="2.90" fill="#808000"/>
<rect x="414.40" y="247.15" width="2.90" height="2.90" fill="#808000"/>
<rect x="415.82" y="247.15" width="2.90" height="2.90" fill="#808000"/>
<rect x="417.24" y="247.15" width="2.90" height="2.90" fill="#808000"/>
<rect x="418.66" y="247.15" width="2.90" height="2.90" fill="#808000"/>
<rect x="420.07" y="247.15" width="2.90" height="2.90" fill="#808000"/>
<rect x="421.49" y="247.15" width="2.90" height="2.90" fill="#808000"/>
<rect x="422.91" y="247.15" width="2.90" height="2.90" fill="#808000"/>
<rect x="424.33" y="247.15" width="2.90" height="2.90" fill="#808000"/>
<rect x="425.75" y="247.15" width="2.90" height="2.90" fill="#808000"/>
<rect x="427.16" y="247.15" width="2.90" height="2.90" fill="#808000"/>
<rect x="428.58" y="247.15" width="2.90" height="2.90" fill="#808000"/>
<rect x="430.00" y="247.15" width="2.90" height="2.90" fill="#808000"/>
<rect x="431.42" y="247.15" width="2.90" height="2.90" fill="#808000"/>
<rect x="432.83" y="247.15" width="2.90" height="2.90" fill="#808000"/>
<rect x="434.25" y="247.15" width="2.90" height="2.90" fill="#808000"/>
<rect x="435.67" y="247.15" width="2.90" height="2.90" fill="#808000"/>
<rect x="437.08" y="247.15" width="2.90" height="2.90" fill="#808000"/>
<rect x="438.50" y="247.15" width="2.90" height="2.90" fill="#808000"/>
<rect x="439.92" y="247.15" width="2.90" height="2.90" fill="#808000"/>
<rect x="441.34" y="247.15" width="2.90" height="2.90" fill="#808000"/>
<rect x="442.75" y="247.15" width="2.90" height="2.90" fill="#808000"/>
<rect x="444.17" y="247.15" width="2.90" height="2.90" fill="#808000"/>
<rect x="445.59" y="247.15" width="2.90" height="2.90" fill="#808000"/>
<rect x="447.01" y="247.15" width="2.90" height="2.90" fill="#808000"/>
<rect x="448.43" y="247.15" width="2.90" height="2.90" fill="#808000"/>
<rect x="449.84" y="247.15" width="2.90" height="2.90" fill="#808000"/>
<rect x="451.26" y="247.15" width="2.90" height="2.90" fill="#808000"/>
<rect x="452.68" y="247.15" width="2.90" height="2.90" fill="#808000"/>
<rect x="454.09" y="247.15" width="2.90" height="2.90" fill="#808000"/>
<rect x="455.51" y="247.15" width="2.90" height="2.90" fill="#808000"/>
<rect x="456.93" y="247.15" width="2.90" height="2.90" fill="#808000"/>
<rect x="458.35" y="247.15" width="2.90" height="2.90" fill="#808000"/>
<rect x="459.76" y="247.15" width="2.90" height="2.90" fill="#808000"/>
<rect x="461.18" y="247.15" width="2.90" height="2.90" fill="#808000"/>
<rect x="462.60" y="247.15" width="2.90" height="2.90" fill="#808000"/>
<rect x="464.02" y="247.15" width="2.90" height="2.90" fill="#808000"/>
<rect x="465.44" y="247.15" width="2.90" height="2.90" fill="#808000"/>
<rect x="466.85" y="247.15" width="2.90" height="2.90" fill="#808000"/>
<rect x="468.27" y="247.15" width="2.90" height="2.90" fill="#808000"/>
<rect x="469.69" y="247.15" width="2.90" height="2.90" fill="#808000"/>
<rect x="471.10" y="247.15" width="2.90" height="2.90" fill="#808000"/>
<rect x="472.52" y="247.15" width="2.90" height="2.90" fill="#808000"/>
<rect x="473.94" y="247.15" width="2.90" height="2.90" fill="#808000"/>
<rect x="475.36" y="247.15" width="2.90" height="2.90" fill="#808000"/>
<rect x="476.77" y="247.15" width="2.90" height="2.90" fill="#808000"/>
<rect x="478.19" y="247.15" width="2.90" height="2.90" fill="#808000"/>
<rect x="479.61" y="247.15" width="2.90" height="2.90" fill="#808000"/>
<rect x="481.03" y="247.15" width="2.90" height="2.90" fill="#808000"/>
<rect x="482.44" y="247.15" width="2.90" height="2.90" fill="#808000"/>
<rect x="483.86" y="247.15" width="2.90" height="2.90" fill="#808000"/>
<rect x="485.28" y="247.15" width="2.90" height="2.90" fill="#808000"/>
<rect x="486.70" y="247.15" width="2.90" height="2.90" fill="#808000"/>
<rect x="488.12" y="247.15" width="2.90" height="2.90" fill="#808000"/>
<rect x="489.53" y="247.15" width="2.90" height="2.90" fill="#808000"/>
<rect x="490.95" y="247.15" width="2.90" height="2.90" fill="#808000"/>
<rect x="492.37" y="247.15" width="2.90" height="2.90" fill="#808000"/>
<rect x="493.78" y="247.15" width="2.90" height="2.90" fill="#808000"/>
<rect x="495.20" y="247.15" width="2.90" height="2.90" fill="#808000"/>
<rect x="496.62" y="247.15" width="2.90" height="2.90" fill="#808000"/>
<rect x="498.04" y="247.15" width="2.90" height="2.90" fill="#808000"/>
<rect x="499.45" y="247.15" width="2.90" height="2.90" fill="#808000"/>
<rect x="500.87" y="247.15" width="2.90" height="2.90" fill="#808000"/>
<rect x="502.29" y="247.15" width="2.90" height="2.90" fill="#808000"/>
<rect x="503.71" y="247.15" width="2.90" height="2.90" fill="#808000"/>
<rect x="505.12" y="247.11" width="2.90" height="2.90" fill="#808000"/>
<rect x="506.54" y="247.06" width="2.90" height="2.90" fill="#808000"/>
<rect x="507.96" y="247.01" width="2.90" height="2.90" fill="#808000"/>
<rect x="509.38" y="246.95" width="2.90" height="2.90" fill="#808000"/>
<rect x="510.80" y="246.89" width="2.90" height="2.90" fill="#808000"/>
<rect x="512.21" y="246.82" width="2.90" height="2.90" fill="#808000"/>
<rect x="513.63" y="246.75" width="2.90" height="2.90" fill="#808000"/>
<rect x="515.05" y="246.67" width="2.90" height="2.90" fill="#808000"/>
<rect x="516.46" y="246.59" width="2.90" height="2.90" fill="#808000"/>
<rect x="517.88" y="246.51" width="2.90" height="2.90" fill="#808000"/>
<rect x="519.30" y="246.42" width="2.90" height="2.90" fill="#808000"/>
<rect x="520.72" y="246.33" width="2.90" height="2.90" fill="#808000"/>
<rect x="522.13" y="246.24" width="2.90" height="2.90" fill="#808000"/>
<rect x="523.55" y="246.15" width="2.90" height="2.90" fill="#808000"/>
<rect x="524.97" y="246.05" width="2.90" height="2.90" fill="#808000"/>
<rect x="526.39" y="245.95" width="2.90" height="2.90" fill="#808000"/>
<rect x="527.80" y="245.85" width="2.90" height="2.90" fill="#808000"/>
<rect x="529.22" y="245.74" width="2.90" height="2.90" fill="#808000"/>
<rect x="530.64" y="245.62" width="2.90" height="2.90" fill="#808000"/>
<rect x="532.06" y="245.49" width="2.90" height="2.90" fill="#808000"/>
<rect x="533.47" y="245.36" width="2.90" height="2.90" fill="#808000"/>
<rect x="534.89" y="245.21" width="2.90" height="2.90" fill="#808000"/>
<rect x="536.31" y="245.06" width="2.90" height="2.90" fill="#808000"/>
<rect x="537.73" y="244.89" width="2.90" height="2.90" fill="#808000"/>
<rect x="539.14" y="244.71" width="2.90" height="2.90" fill="#808000"/>
<rect x="540.56" y="244.52" width="2.90" height="2.90" fill="#808000"/>
<rect x="541.98" y="244.30" width="2.90" height="2.90" fill="#808000"/>
<rect x="543.40" y="244.03" width="2.90" height="2.90" fill="#808000"/>
<rect x="544.81" y="243.73" width="2.90" height="2.90" fill="#808000"/>
<rect x="546.23" y="243.40" width="2.90" height="2.90" fill="#808000"/>
<rect x="547.65" y="243.04" width="2.90" height="2.90" fill="#808000"/>
<rect x="549.07" y="242.66" width="2.90" height="2.90" fill="#808000"/>
<rect x="550.48" y="242.26" width="2.90" height="2.90" fill="#808000"/>
<rect x="551.90" y="241.84" width="2.90" height="2.90" fill="#808000"/>
<rect x="553.32" y="241.42" width="2.90" height="2.90" fill="#808000"/>
<rect x="554.74" y="240.99" width="2.90" height="2.90" fill="#808000"/>
<rect x="556.15" y="240.56" width="2.90" height="2.90" fill="#808000"/>
<rect x="557.57" y="240.13" width="2.90" height="2.90" fill="#808000"/>
<rect x="558.99" y="239.66" width="2.90" height="2.90" fill="#808000"/>
<rect x="560.41" y="239.17" width="2.90" height="2.90" fill="#808000"/>
<rect x="561.82" y="238.66" width="2.90" height="2.90" fill="#808000"/>
<rect x="563.24" y="238.13" width="2.90" height="2.90" fill="#808000"/>
<rect x="564.66" y="237.60" width="2.90" height="2.90" fill="#808000"/>
<rect x="566.08" y="237.06" width="2.90" height="2.90" fill="#808000"/>
<rect x="567.49" y="236.52" width="2.90" height="2.90" fill="#808000"/>
<rect x="568.91" y="235.97" width="2.90" height="2.90" fill="#808000"/>
<rect x="570.33" y="235.41" width="2.90" height="2.90" fill="#808000"/>
<rect x="571.75" y="234.84" width="2.90" height="2.90" fill="#808000"/>
<rect x="573.16" y="234.27" width="2.90" height="2.90" fill="#808000"/>
<rect x="574.58" y="233.69" width="2.90" height="2.90" fill="#808000"/>
<rect x="576.00" y="233.12" width="2.90" height="2.90" fill="#808000"/>
<rect x="577.42" y="232.54" width="2.90" height="2.90" fill="#808000"/>
<rect x="578.83" y="231.98" width="2.90" height="2.90" fill="#808000"/>
<rect x="580.25" y="231.41" width="2.90" height="2.90" fill="#808000"/>
<rect x="581.67" y="230.85" width="2.90" height="2.90" fill="#808000"/>
<rect x="583.09" y="230.29" width="2.90" height="2.90" fill="#808000"/>
<rect x="584.50" y="229.72" width="2.90" height="2.90" fill="#808000"/>
<rect x="585.92" y="229.16" width="2.90" height="2.90" fill="#808000"/>
<rect x="587.34" y="228.59" width="2.90" height="2.90" fill="#808000"/>
<rect x="588.76" y="228.03" width="2.90" height="2.90" fill="#808000"/>
<rect x="590.17" y="227.46" width="2.90" height="2.90" fill="#808000"/>
<rect x="591.59" y="226.89" width="2.90" height="2.90" fill="#808000"/>
<rect x="593.01" y="226.32" width="2.90" height="2.90" fill="#808000"/>
<rect x="594.43" y="225.75" width="2.90" height="2.90" fill="#808000"/>
<rect x="595.84" y="225.18" width="2.90" height="2.90" fill="#808000"/>
<rect x="597.26" y="224.61" width="2.90" height="2.90" fill="#808000"/>
<rect x="598.68" y="224.03" width="2.90" height="2.90" fill="#808000"/>
<rect x="600.10" y="223.46" width="2.90" height="2.90" fill="#808000"/>
<rect x="601.51" y="222.88" width="2.90" height="2.90" fill="#808000"/>
<rect x="602.93" y="222.31" width="2.90" height="2.90" fill="#808000"/>
<rect x="604.35" y="221.73" width="2.90" height="2.90" fill="#808000"/>
<rect x="377.55" y="247.15" width="2.90" height="2.90" fill="#000000"/>
<rect x="378.97" y="247.15" width="2.90" height="2.90" fill="#000000"/>
<rect x="380.38" y="247.15" width="2.90" height="2.90" fill="#000000"/>
<rect x="381.80" y="247.15" width="2.90" height="2.90" fill="#000000"/>
<rect x="383.22" y="247.15" width="2.90" height="2.90" fill="#000000"/>
<rect x="384.64" y="247.15" width="2.90" height="2.90" fill="#000000"/>
<rect x="386.06" y="247.15" width="2.90" height="2.90" fill="#000000"/>
<rect x="387.47" y="247.15" width="2.90" height="2.90" fill="#000000"/>
<rect x="388.89" y="247.15" width="2.90" height="2.90" fill="#000000"/>
<rect x="390.31" y="247.15" width="2.90" height="2.90" fill="#000000"/>
<rect x="391.72" y="247.15" width="2.90" height="2.90" fill="#000000"/>
<rect x="393.14" y="247.15" width="2.90" height="2.90" fill="#000000"/>
<rect x="394.56" y="247.15" width="2.90" height="2.90" fill="#000000"/>
<rect x="395.98" y="247.15" width="2.90" height="2.90" fill="#000000"/>
<rect x="397.39" y="247.15" width="2.90" height="2.90" fill="#000000"/>
<rect x="398.81" y="247.15" width="2.90" height="2.90" fill="#000000"/>
<rect x="400.23" y="247.15" width="2.90" height="2.90" fill="#000000"/>
<rect x="401.65" y="247.15" width="2.90" height="2.90" fill="#000000"/>
<rect x="403.06" y="247.15" width="2.90" height="2.90" fill="#000000"/>
<rect x="404.48" y="247.15" width="2.90" height="2.90" fill="#000000"/>
<rect x="405.90" y="247.15" width="2.90" height="2.90" fill="#000000"/>
<rect x="407.32" y="247.15" width="2.90" height="2.90" fill="#000000"/>
<rect x="408.73" y="247.15" width="2.90" height="2.90" fill="#000000"/>
<rect x="410.15" y="247.15" width="2.90" height="2.90" fill="#000000"/>
<rect x="411.57" y="247.15" width="2.90" height="2.90" fill="#000000"/>
<rect x="412.99" y="247.15" width="2.90" height="2.90" fill="#000000"/>
<rect x="414.40" y="247.15" width="2.90" height="2.90" fill="#000000"/>
<rect x="415.82" y="247.15" width="2.90" height="2.90" fill="#000000"/>
<rect x="417.24" y="247.15" width="2.90" height="2.90" fill="#000000"/>
<rect x="418.66" y="247.15" width="2.90" height="2.90" fill="#000000"/>
<rect x="420.07" y="247.15" width="2.90" height="2.90" fill="#000000"/>
<rect x="421.49" y="247.15" width="2.90" height="2.90" fill="#000000"/>
<rect x="422.91" y="247.15" width="2.90" height="2.90" fill="#000000"/>
<rect x="424.33" y="247.15" width="2.90" height="2.90" fill="#000000"/>
<rect x="425.75" y="247.15" width="2.90" height="2.90" fill="#000000"/>
<rect x="427.16" y="247.15" width="2.90" height="2.90" fill="#000000"/>
<rect x="428.58" y="247.15" width="2.90" height="2.90" fill="#000000"/>
<rect x="430.00" y="247.15" width="2.90" height="2.90" fill="#000000"/>
<rect x="431.42" y="247.15" width="2.90" height="2.90" fill="#000000"/>
<rect x="432.83" y="247.15" width="2.90" height="2.90" fill="#000000"/>
<rect x="434.25" y="247.15" width="2.90" height="2.90" fill="#000000"/>
<rect x="435.67" y="247.15" width="2.90" height="2.90" fill="#000000"/>
<rect x="437.08" y="247.15" width="2.90" height="2.90" fill="#000000"/>
<rect x="438.50" y="247.15" width="2.90" height="2.90" fill="#000000"/>
<rect x="439.92" y="247.15" width="2.90" height="2.90" fill="#000000"/>
<rect x="441.34" y="247.15" width="2.90" height="2.90" fill="#000000"/>
<rect x="442.75" y="247.15" width="2.90" height="2.90" fill="#000000"/>
<rect x="444.17" y="247.15" width="2.90" height="2.90" fill="#000000"/>
<rect x="445.59" y="247.15" width="2.90" height="2.90" fill="#000000"/>
<rect x="447.01" y="247.15" width="2.90" height="2.90" fill="#000000"/>
<rect x="448.43" y="247.15" width="2.90" height="2.90" fill="#000000"/>
<rect x="449.84" y="247.15" width="2.90" height="2.90" fill="#000000"/>
<rect x="451.26" y="247.15" width="2.90" height="2.90" fill="#000000"/>
<rect x="452.68" y="247.15" width="2.90" height="2.90" fill="#000000"/>
<rect x="454.09" y="247.15" width="2.90" height="2.90" fill="#000000"/>
<rect x="455.51" y="247.15" width="2.90" height="2.90" fill="#000000"/>
<rect x="456.93" y="247.15" width="2.90" height="2.90" fill="#000000"/>
<rect x="458.35" y="247.15" width="2.90" height="2.90" fill="#000000"/>
<rect x="459.76" y="247.15" width="2.90" height="2.90" fill="#000000"/>
<rect x="461.18" y="247.15" width="2.90" height="2.90" fill="#000000"/>
<rect x="462.60" y="247.15" width="2.90" height="2.90" fill="#000000"/>
<rect x="464.02" y="247.15" width="2.90" height="2.90" fill="#000000"/>
<rect x="465.44" y="247.15" width="2.90" height="2.90" fill="#000000"/>
<rect x="466.85" y="247.15" width="2.90" height="2.90" fill="#000000"/>
<rect x="468.27" y="247.15" width="2.90" height="2.90" fill="#000000"/>
<rect x="469.69" y="247.15" width="2.90" height="2.90" fill="#000000"/>
<rect x="471.10" y="247.15" width="2.90" height="2.90" fill="#000000"/>
<rect x="472.52" y="247.15" width="2.90" height="2.90" fill="#000000"/>
<rect x="473.94" y="247.15" width="2.90" height="2.90" fill="#000000"/>
<rect x="475.36" y="247.15" width="2.90" height="2.90" fill="#000000"/>
<rect x="476.77" y="247.15" width="2.90" height="2.90" fill="#000000"/>
<rect x="478.19" y="247.15" width="2.90" height="2.90" fill="#000000"/>
<rect x="479.61" y="247.15" width="2.90" height="2.90" fill="#000000"/>
<rect x="481.03" y="247.15" width="2.90" height="2.90" fill="#000000"/>
<rect x="482.44" y="247.15" width="2.90" height="2.90" fill="#000000"/>
<rect x="483.86" y="247.15" width="2.90" height="2.90" fill="#000000"/>
<rect x="485.28" y="247.15" width="2.90" height="2.90" fill="#000000"/>
<rect x="486.70" y="247.15" width="2.90" height="2.90" fill="#000000"/>
<rect x="488.12" y="247.15" width="2.90" height="2.90" fill="#000000"/>
<rect x="489.53" y="247.15" width="2.90" height="2.90" fill="#000000"/>
<rect x="490.95" y="247.15" width="2.90" height="2.90" fill="#000000"/>
<rect x="492.37" y="247.15" width="2.90" height="2.90" fill="#000000"/>
<rect x="493.78" y="247.15" width="2.90" height="2.90" fill="#000000"/>
<rect x="495.20" y="247.15" width="2.90" height="2.90" fill="#000000"/>
<rect x="496.62" y="247.15" width="2.90" height="2.90" fill="#000000"/>
<rect x="498.04" y="247.15" width="2.90" height="2.90" fill="#000000"/>
<rect x="499.45" y="247.15" width="2.90" height="2.90" fill="#000000"/>
<rect x="500.87" y="247.15" width="2.90" height="2.90" fill="#000000"/>
<rect x="502.29" y="247.15" width="2.90" height="2.90" fill="#000000"/>
<rect x="503.71" y="247.15" width="2.90" height="2.90" fill="#000000"/>
<rect x="505.12" y="247.15" width="2.90" height="2.90" fill="#000000"/>
<rect x="506.54" y="247.14" width="2.90" height="2.90" fill="#000000"/>
<rect x="507.96" y="247.13" width="2.90" height="2.90" fill="#000000"/>
<rect x="509.38" y="247.11" width="2.90" height="2.90" fill="#000000"/>
<rect x="510.80" y="247.09" width="2.90" height="2.90" fill="#000000"/>
<rect x="512.21" y="247.07" width="2.90" height="2.90" fill="#000000"/>
<rect x="513.63" y="247.05" width="2.90" height="2.90" fill="#000000"/>
<rect x="515.05" y="247.02" width="2.90" height="2.90" fill="#000000"/>
<rect x="516.46" y="246.99" width="2.90" height="2.90" fill="#000000"/>
<rect x="517.88" y="246.96" width="2.90" height="2.90" fill="#000000"/>
<rect x="519.30" y="246.93" width="2.90" height="2.90" fill="#000000"/>
<rect x="520.72" y="246.90" width="2.90" height="2.90" fill="#000000"/>
<rect x="522.13" y="246.86" width="2.90" height="2.90" fill="#000000"/>
<rect x="523.55" y="246.81" width="2.90" height="2.90" fill="#000000"/>
<rect x="524.97" y="246.75" width="2.90" height="2.90" fill="#000000"/>
<rect x="526.39" y="246.69" width="2.90" height="2.90" fill="#000000"/>
<rect x="527.80" y="246.63" width="2.90" height="2.90" fill="#000000"/>
<rect x="529.22" y="246.56" width="2.90" height="2.90" fill="#000000"/>
<rect x="530.64" y="246.48" width="2.90" height="2.90" fill="#000000"/>
<rect x="532.06" y="246.40" width="2.90" height="2.90" fill="#000000"/>
<rect x="533.47" y="246.32" width="2.90" height="2.90" fill="#000000"/>
<rect x="534.89" y="246.23" width="2.90" height="2.90" fill="#000000"/>
<rect x="536.31" y="246.13" width="2.90" height="2.90" fill="#000000"/>
<rect x="537.73" y="246.04" width="2.90" height="2.90" fill="#000000"/>
<rect x="539.14" y="245.93" width="2.90" height="2.90" fill="#000000"/>
<rect x="540.56" y="245.81" width="2.90" height="2.90" fill="#000000"/>
<rect x="541.98" y="245.67" width="2.90" height="2.90" fill="#000000"/>
<rect x="543.40" y="245.51" width="2.90" height="2.90" fill="#000000"/>
<rect x="544.81" y="245.35" width="2.90" height="2.90" fill="#000000"/>
<rect x="546.23" y="245.17" width="2.90" height="2.90" fill="#000000"/>
<rect x="547.65" y="244.98" width="2.90" height="2.90" fill="#000000"/>
<rect x="549.07" y="244.78" width="2.90" height="2.90" fill="#000000"/>
<rect x="550.48" y="244.58" width="2.90" height="2.90" fill="#000000"/>
<rect x="551.90" y="244.36" width="2.90" height="2.90" fill="#000000"/>
<rect x="553.32" y="244.14" width="2.90" height="2.90" fill="#000000"/>
<rect x="554.74" y="243.90" width="2.90" height="2.90" fill="#000000"/>
<rect x="556.15" y="243.67" width="2.90" height="2.90" fill="#000000"/>
<rect x="557.57" y="243.42" width="2.90" height="2.90" fill="#000000"/>
<rect x="558.99" y="243.15" width="2.90" height="2.90" fill="#000000"/>
<rect x="560.41" y="242.85" width="2.90" height="2.90" fill="#000000"/>
<rect x="561.82" y="242.52" width="2.90" height="2.90" fill="#000000"/>
<rect x="563.24" y="242.18" width="2.90" height="2.90" fill="#000000"/>
<rect x="564.66" y="241.82" width="2.90" height="2.90" fill="#000000"/>
<rect x="566.08" y="241.45" width="2.90" height="2.90" fill="#000000"/>
<rect x="567.49" y="241.07" width="2.90" height="2.90" fill="#000000"/>
<rect x="568.91" y="240.70" width="2.90" height="2.90" fill="#000000"/>
<rect x="570.33" y="240.32" width="2.90" height="2.90" fill="#000000"/>
<rect x="571.75" y="239.95" width="2.90" height="2.90" fill="#000000"/>
<rect x="573.16" y="239.60" width="2.90" height="2.90" fill="#000000"/>
<rect x="574.58" y="239.24" width="2.90" height="2.90" fill="#000000"/>
<rect x="576.00" y="238.87" width="2.90" height="2.90" fill="#000000"/>
<rect x="577.42" y="238.51" width="2.90" height="2.90" fill="#000000"/>
<rect x="578.83" y="238.14" width="2.90" height="2.90" fill="#000000"/>
<rect x="580.25" y="237.77" width="2.90" height="2.90" fill="#000000"/>
<rect x="581.67" y="237.40" width="2.90" height="2.90" fill="#000000"/>
<rect x="583.09" y="237.03" width="2.90" height="2.90" fill="#000000"/>
<rect x="584.50" y="236.65" width="2.90" height="2.90" fill="#000000"/>
<rect x="585.92" y="236.28" width="2.90" height="2.90" fill="#000000"/>
<rect x="587.34" y="235.91" width="2.90" height="2.90" fill="#000000"/>
<rect x="588.76" y="235.53" width="2.90" height="2.90" fill="#000000"/>
<rect x="590.17" y="235.16" width="2.90" height="2.90" fill="#000000"/>
<rect x="591.59" y="234.78" width="2.90" height="2.90" fill="#000000"/>
<rect x="593.01" y="234.41" width="2.90" height="2.90" fill="#000000"/>
<rect x="594.43" y="234.03" width="2.90" height="2.90" fill="#000000"/>
<rect x="595.84" y="233.65" width="2.90" height="2.90" fill="#000000"/>
<rect x="597.26" y="233.27" width="2.90" height="2.90" fill="#000000"/>
<rect x="598.68" y="232.89" width="2.90" height="2.90" fill="#000000"/>
<rect x="600.10" y="232.51" width="2.90" height="2.90" fill="#000000"/>
<rect x="601.51" y="232.13" width="2.90" height="2.90" fill="#000000"/>
<rect x="602.93" y="231.75" width="2.90" height="2.90" fill="#000000"/>
<rect x="604.35" y="231.37" width="2.90" height="2.90" fill="#000000"/>
<rect x="382.1" y="14.9" width="90.4" height="173.2" fill="#fff" stroke="#666" stroke-width="1.2"/>
<text x="391.00" y="43.00" font-size="15.2" text-anchor="start" >V<tspan font-size="9.0" dx="0.1" dy="5.4">DS</tspan><tspan dy="-5.4">=-1V</tspan></text>
<line x1="391.30" y1="61.40" x2="402.50" y2="61.40" stroke="#ff0000" stroke-width="1.1"/>
<line x1="414.30" y1="61.40" x2="425.80" y2="61.40" stroke="#ff0000" stroke-width="1.1"/>
<rect x="407.20" y="59.80" width="3.20" height="3.20" fill="#ff0000"/>
<text x="430.00" y="66.90" font-size="15.2" text-anchor="start" >295K</text>
<line x1="391.30" y1="80.35" x2="402.50" y2="80.35" stroke="#00ff00" stroke-width="1.1"/>
<line x1="414.30" y1="80.35" x2="425.80" y2="80.35" stroke="#00ff00" stroke-width="1.1"/>
<rect x="407.20" y="78.75" width="3.20" height="3.20" fill="#00ff00"/>
<text x="430.00" y="85.85" font-size="15.2" text-anchor="start" >260K</text>
<line x1="391.30" y1="99.30" x2="402.50" y2="99.30" stroke="#0000ff" stroke-width="1.1"/>
<line x1="414.30" y1="99.30" x2="425.80" y2="99.30" stroke="#0000ff" stroke-width="1.1"/>
<rect x="407.20" y="97.70" width="3.20" height="3.20" fill="#0000ff"/>
<text x="430.00" y="104.80" font-size="15.2" text-anchor="start" >220K</text>
<line x1="391.30" y1="118.25" x2="402.50" y2="118.25" stroke="#00ffff" stroke-width="1.1"/>
<line x1="414.30" y1="118.25" x2="425.80" y2="118.25" stroke="#00ffff" stroke-width="1.1"/>
<rect x="407.20" y="116.65" width="3.20" height="3.20" fill="#00ffff"/>
<text x="430.00" y="123.75" font-size="15.2" text-anchor="start" >180K</text>
<line x1="391.30" y1="137.20" x2="402.50" y2="137.20" stroke="#ff00ff" stroke-width="1.1"/>
<line x1="414.30" y1="137.20" x2="425.80" y2="137.20" stroke="#ff00ff" stroke-width="1.1"/>
<rect x="407.20" y="135.60" width="3.20" height="3.20" fill="#ff00ff"/>
<text x="430.00" y="142.70" font-size="15.2" text-anchor="start" >150K</text>
<line x1="391.30" y1="156.15" x2="402.50" y2="156.15" stroke="#808000" stroke-width="1.1"/>
<line x1="414.30" y1="156.15" x2="425.80" y2="156.15" stroke="#808000" stroke-width="1.1"/>
<rect x="407.20" y="154.55" width="3.20" height="3.20" fill="#808000"/>
<text x="430.00" y="161.65" font-size="15.2" text-anchor="start" >120K</text>
<line x1="391.30" y1="175.10" x2="402.50" y2="175.10" stroke="#000000" stroke-width="1.1"/>
<line x1="414.30" y1="175.10" x2="425.80" y2="175.10" stroke="#000000" stroke-width="1.1"/>
<rect x="407.20" y="173.50" width="3.20" height="3.20" fill="#000000"/>
<text x="430.00" y="180.60" font-size="15.2" text-anchor="start" >100K</text>
<text x="471.50" y="299.80" font-size="15" text-anchor="start" >V<tspan font-size="10" dx="0.5" dy="6.8">G</tspan><tspan dx="-0.9" dy="-6.8"> (V)</tspan></text>
<text transform="translate(335.8,154.5) rotate(-90)" font-size="15.3">I<tspan font-size="9.5" dx="0.6" dy="5.6">DS</tspan><tspan dy="-5.6"> (&#956;A)</tspan></text>
<text x="326.70" y="19.80" font-size="24.6" text-anchor="start" >b</text>
<rect x="54.7" y="328.3" width="254.5" height="255.49999999999994" fill="none" stroke="#000" stroke-width="1.9"/>
<line x1="90.90" y1="583.80" x2="90.90" y2="574.50" stroke="#000" stroke-width="1.6"/>
<text x="90.90" y="597.40" font-size="12.8" text-anchor="middle" >0.004</text>
<line x1="158.20" y1="583.80" x2="158.20" y2="574.50" stroke="#000" stroke-width="1.6"/>
<text x="158.20" y="597.40" font-size="12.8" text-anchor="middle" >0.006</text>
<line x1="225.50" y1="583.80" x2="225.50" y2="574.50" stroke="#000" stroke-width="1.6"/>
<text x="225.50" y="597.40" font-size="12.8" text-anchor="middle" >0.008</text>
<line x1="292.80" y1="583.80" x2="292.80" y2="574.50" stroke="#000" stroke-width="1.6"/>
<text x="292.80" y="597.40" font-size="12.8" text-anchor="middle" >0.010</text>
<line x1="124.55" y1="583.80" x2="124.55" y2="579.80" stroke="#000" stroke-width="1.6"/>
<line x1="191.85" y1="583.80" x2="191.85" y2="579.80" stroke="#000" stroke-width="1.6"/>
<line x1="259.15" y1="583.80" x2="259.15" y2="579.80" stroke="#000" stroke-width="1.6"/>
<line x1="54.70" y1="569.75" x2="62.50" y2="569.75" stroke="#000" stroke-width="1.6"/>
<text x="51.30" y="575.15" font-size="13.0" text-anchor="end" >1E8</text>
<line x1="54.70" y1="524.18" x2="62.50" y2="524.18" stroke="#000" stroke-width="1.6"/>
<text x="51.30" y="529.58" font-size="13.0" text-anchor="end" >1E9</text>
<line x1="54.70" y1="478.61" x2="62.50" y2="478.61" stroke="#000" stroke-width="1.6"/>
<text x="51.30" y="484.01" font-size="13.0" text-anchor="end" >1E10</text>
<line x1="54.70" y1="433.04" x2="62.50" y2="433.04" stroke="#000" stroke-width="1.6"/>
<text x="51.30" y="438.44" font-size="13.0" text-anchor="end" >1E11</text>
<line x1="54.70" y1="387.47" x2="62.50" y2="387.47" stroke="#000" stroke-width="1.6"/>
<text x="51.30" y="392.87" font-size="13.0" text-anchor="end" >1E12</text>
<line x1="54.70" y1="341.90" x2="62.50" y2="341.90" stroke="#000" stroke-width="1.6"/>
<text x="51.30" y="347.30" font-size="13.0" text-anchor="end" >1E13</text>
<line x1="54.70" y1="583.47" x2="58.30" y2="583.47" stroke="#000" stroke-width="1.3"/>
<line x1="54.70" y1="579.86" x2="58.30" y2="579.86" stroke="#000" stroke-width="1.3"/>
<line x1="54.70" y1="576.81" x2="58.30" y2="576.81" stroke="#000" stroke-width="1.3"/>
<line x1="54.70" y1="574.17" x2="58.30" y2="574.17" stroke="#000" stroke-width="1.3"/>
<line x1="54.70" y1="571.84" x2="58.30" y2="571.84" stroke="#000" stroke-width="1.3"/>
<line x1="54.70" y1="556.03" x2="58.30" y2="556.03" stroke="#000" stroke-width="1.3"/>
<line x1="54.70" y1="548.01" x2="58.30" y2="548.01" stroke="#000" stroke-width="1.3"/>
<line x1="54.70" y1="542.31" x2="58.30" y2="542.31" stroke="#000" stroke-width="1.3"/>
<line x1="54.70" y1="537.90" x2="58.30" y2="537.90" stroke="#000" stroke-width="1.3"/>
<line x1="54.70" y1="534.29" x2="58.30" y2="534.29" stroke="#000" stroke-width="1.3"/>
<line x1="54.70" y1="531.24" x2="58.30" y2="531.24" stroke="#000" stroke-width="1.3"/>
<line x1="54.70" y1="528.60" x2="58.30" y2="528.60" stroke="#000" stroke-width="1.3"/>
<line x1="54.70" y1="526.27" x2="58.30" y2="526.27" stroke="#000" stroke-width="1.3"/>
<line x1="54.70" y1="510.46" x2="58.30" y2="510.46" stroke="#000" stroke-width="1.3"/>
<line x1="54.70" y1="502.44" x2="58.30" y2="502.44" stroke="#000" stroke-width="1.3"/>
<line x1="54.70" y1="496.74" x2="58.30" y2="496.74" stroke="#000" stroke-width="1.3"/>
<line x1="54.70" y1="492.33" x2="58.30" y2="492.33" stroke="#000" stroke-width="1.3"/>
<line x1="54.70" y1="488.72" x2="58.30" y2="488.72" stroke="#000" stroke-width="1.3"/>
<line x1="54.70" y1="485.67" x2="58.30" y2="485.67" stroke="#000" stroke-width="1.3"/>
<line x1="54.70" y1="483.03" x2="58.30" y2="483.03" stroke="#000" stroke-width="1.3"/>
<line x1="54.70" y1="480.70" x2="58.30" y2="480.70" stroke="#000" stroke-width="1.3"/>
<line x1="54.70" y1="464.89" x2="58.30" y2="464.89" stroke="#000" stroke-width="1.3"/>
<line x1="54.70" y1="456.87" x2="58.30" y2="456.87" stroke="#000" stroke-width="1.3"/>
<line x1="54.70" y1="451.17" x2="58.30" y2="451.17" stroke="#000" stroke-width="1.3"/>
<line x1="54.70" y1="446.76" x2="58.30" y2="446.76" stroke="#000" stroke-width="1.3"/>
<line x1="54.70" y1="443.15" x2="58.30" y2="443.15" stroke="#000" stroke-width="1.3"/>
<line x1="54.70" y1="440.10" x2="58.30" y2="440.10" stroke="#000" stroke-width="1.3"/>
<line x1="54.70" y1="437.46" x2="58.30" y2="437.46" stroke="#000" stroke-width="1.3"/>
<line x1="54.70" y1="435.13" x2="58.30" y2="435.13" stroke="#000" stroke-width="1.3"/>
<line x1="54.70" y1="419.32" x2="58.30" y2="419.32" stroke="#000" stroke-width="1.3"/>
<line x1="54.70" y1="411.30" x2="58.30" y2="411.30" stroke="#000" stroke-width="1.3"/>
<line x1="54.70" y1="405.60" x2="58.30" y2="405.60" stroke="#000" stroke-width="1.3"/>
<line x1="54.70" y1="401.19" x2="58.30" y2="401.19" stroke="#000" stroke-width="1.3"/>
<line x1="54.70" y1="397.58" x2="58.30" y2="397.58" stroke="#000" stroke-width="1.3"/>
<line x1="54.70" y1="394.53" x2="58.30" y2="394.53" stroke="#000" stroke-width="1.3"/>
<line x1="54.70" y1="391.89" x2="58.30" y2="391.89" stroke="#000" stroke-width="1.3"/>
<line x1="54.70" y1="389.56" x2="58.30" y2="389.56" stroke="#000" stroke-width="1.3"/>
<line x1="54.70" y1="373.75" x2="58.30" y2="373.75" stroke="#000" stroke-width="1.3"/>
<line x1="54.70" y1="365.73" x2="58.30" y2="365.73" stroke="#000" stroke-width="1.3"/>
<line x1="54.70" y1="360.03" x2="58.30" y2="360.03" stroke="#000" stroke-width="1.3"/>
<line x1="54.70" y1="355.62" x2="58.30" y2="355.62" stroke="#000" stroke-width="1.3"/>
<line x1="54.70" y1="352.01" x2="58.30" y2="352.01" stroke="#000" stroke-width="1.3"/>
<line x1="54.70" y1="348.96" x2="58.30" y2="348.96" stroke="#000" stroke-width="1.3"/>
<line x1="54.70" y1="346.32" x2="58.30" y2="346.32" stroke="#000" stroke-width="1.3"/>
<line x1="54.70" y1="343.99" x2="58.30" y2="343.99" stroke="#000" stroke-width="1.3"/>
<line x1="69.70" y1="540.20" x2="292.90" y2="337.80" stroke="#000" stroke-width="2.2"/>
<rect x="67.60" y="560.80" width="5.40" height="5.40" fill="#ff0000"/>
<rect x="83.00" y="536.30" width="5.40" height="5.40" fill="#ff0000"/>
<rect x="93.70" y="506.20" width="5.40" height="5.40" fill="#ff0000"/>
<rect x="106.20" y="498.10" width="5.40" height="5.40" fill="#ff0000"/>
<rect x="121.60" y="467.60" width="5.40" height="5.40" fill="#ff0000"/>
<rect x="140.40" y="468.90" width="5.40" height="5.40" fill="#ff0000"/>
<rect x="163.70" y="436.20" width="5.40" height="5.40" fill="#ff0000"/>
<rect x="177.70" y="436.50" width="5.40" height="5.40" fill="#ff0000"/>
<rect x="193.70" y="417.00" width="5.40" height="5.40" fill="#ff0000"/>
<rect x="212.20" y="412.70" width="5.40" height="5.40" fill="#ff0000"/>
<rect x="233.30" y="375.20" width="5.40" height="5.40" fill="#ff0000"/>
<rect x="258.80" y="355.10" width="5.40" height="5.40" fill="#ff0000"/>
<rect x="289.70" y="359.90" width="5.40" height="5.40" fill="#ff0000"/>
<rect x="69.1" y="335.6" width="129.4" height="36.6" fill="none" stroke="#333" stroke-width="1.1"/>
<rect x="89.30" y="342.30" width="5.40" height="5.40" fill="#ff0000"/>
<text x="113.00" y="350.00" font-size="15.2" text-anchor="start" >data</text>
<line x1="74.40" y1="363.90" x2="109.80" y2="363.90" stroke="#000" stroke-width="2.2"/>
<text x="113.60" y="369.00" font-size="15.3" text-anchor="start" >Arrhenius fit</text>
<text x="153.00" y="615.80" font-size="15.45" text-anchor="start" >1/T (1/K)</text>
<text transform="translate(12.8,482.0) rotate(-90)" font-size="15">R (Ohm)</text>
<text x="7.30" y="327.20" font-size="25.5" text-anchor="start" >c</text>
<rect x="365" y="329.5" width="255.29999999999995" height="255.5" fill="none" stroke="#000" stroke-width="1.9"/>
<line x1="376.50" y1="585.00" x2="376.50" y2="576.20" stroke="#000" stroke-width="1.6"/>
<text x="376.50" y="599.40" font-size="12.8" text-anchor="middle" >100</text>
<line x1="435.82" y1="585.00" x2="435.82" y2="576.20" stroke="#000" stroke-width="1.6"/>
<text x="435.82" y="599.40" font-size="12.8" text-anchor="middle" >150</text>
<line x1="495.15" y1="585.00" x2="495.15" y2="576.20" stroke="#000" stroke-width="1.6"/>
<text x="495.15" y="599.40" font-size="12.8" text-anchor="middle" >200</text>
<line x1="554.48" y1="585.00" x2="554.48" y2="576.20" stroke="#000" stroke-width="1.6"/>
<text x="554.48" y="599.40" font-size="12.8" text-anchor="middle" >250</text>
<line x1="613.80" y1="585.00" x2="613.80" y2="576.20" stroke="#000" stroke-width="1.6"/>
<text x="613.80" y="599.40" font-size="12.8" text-anchor="middle" >300</text>
<line x1="406.16" y1="585.00" x2="406.16" y2="580.30" stroke="#000" stroke-width="1.6"/>
<line x1="465.49" y1="585.00" x2="465.49" y2="580.30" stroke="#000" stroke-width="1.6"/>
<line x1="524.81" y1="585.00" x2="524.81" y2="580.30" stroke="#000" stroke-width="1.6"/>
<line x1="584.14" y1="585.00" x2="584.14" y2="580.30" stroke="#000" stroke-width="1.6"/>
<line x1="365.00" y1="584.30" x2="373.60" y2="584.30" stroke="#000" stroke-width="1.6"/>
<text x="361.20" y="588.60" font-size="12.6" text-anchor="end" >0.0</text>
<line x1="365.00" y1="476.98" x2="373.60" y2="476.98" stroke="#000" stroke-width="1.6"/>
<text x="361.20" y="481.28" font-size="12.6" text-anchor="end" >0.4</text>
<line x1="365.00" y1="369.66" x2="373.60" y2="369.66" stroke="#000" stroke-width="1.6"/>
<text x="361.20" y="373.96" font-size="12.6" text-anchor="end" >0.8</text>
<line x1="365.00" y1="530.64" x2="360.80" y2="530.64" stroke="#000" stroke-width="1.6"/>
<line x1="365.00" y1="423.32" x2="360.80" y2="423.32" stroke="#000" stroke-width="1.6"/>
<line x1="376.70" y1="558.50" x2="376.70" y2="564.60" stroke="#333" stroke-width="1.1"/>
<line x1="372.20" y1="558.50" x2="381.20" y2="558.50" stroke="#333" stroke-width="1.1"/>
<line x1="372.20" y1="564.60" x2="381.20" y2="564.60" stroke="#333" stroke-width="1.1"/>
<rect x="374.10" y="559.10" width="5.20" height="5.20" fill="#000"/>
<line x1="400.30" y1="546.50" x2="400.30" y2="552.50" stroke="#333" stroke-width="1.1"/>
<line x1="395.80" y1="546.50" x2="404.80" y2="546.50" stroke="#333" stroke-width="1.1"/>
<line x1="395.80" y1="552.50" x2="404.80" y2="552.50" stroke="#333" stroke-width="1.1"/>
<rect x="397.70" y="547.10" width="5.20" height="5.20" fill="#000"/>
<line x1="435.80" y1="516.40" x2="435.80" y2="527.50" stroke="#333" stroke-width="1.1"/>
<line x1="431.30" y1="516.40" x2="440.30" y2="516.40" stroke="#333" stroke-width="1.1"/>
<line x1="431.30" y1="527.50" x2="440.30" y2="527.50" stroke="#333" stroke-width="1.1"/>
<rect x="433.20" y="519.40" width="5.20" height="5.20" fill="#000"/>
<line x1="471.60" y1="482.10" x2="471.60" y2="494.30" stroke="#333" stroke-width="1.1"/>
<line x1="467.10" y1="482.10" x2="476.10" y2="482.10" stroke="#333" stroke-width="1.1"/>
<line x1="467.10" y1="494.30" x2="476.10" y2="494.30" stroke="#333" stroke-width="1.1"/>
<rect x="469.00" y="485.60" width="5.20" height="5.20" fill="#000"/>
<line x1="518.90" y1="420.10" x2="518.90" y2="440.50" stroke="#333" stroke-width="1.1"/>
<line x1="514.40" y1="420.10" x2="523.40" y2="420.10" stroke="#333" stroke-width="1.1"/>
<line x1="514.40" y1="440.50" x2="523.40" y2="440.50" stroke="#333" stroke-width="1.1"/>
<rect x="516.30" y="427.80" width="5.20" height="5.20" fill="#000"/>
<line x1="566.30" y1="384.20" x2="566.30" y2="408.30" stroke="#333" stroke-width="1.1"/>
<line x1="561.80" y1="384.20" x2="570.80" y2="384.20" stroke="#333" stroke-width="1.1"/>
<line x1="561.80" y1="408.30" x2="570.80" y2="408.30" stroke="#333" stroke-width="1.1"/>
<rect x="563.70" y="393.60" width="5.20" height="5.20" fill="#000"/>
<line x1="608.10" y1="337.80" x2="608.10" y2="401.60" stroke="#333" stroke-width="1.1"/>
<line x1="603.60" y1="337.80" x2="612.60" y2="337.80" stroke="#333" stroke-width="1.1"/>
<line x1="603.60" y1="401.60" x2="612.60" y2="401.60" stroke="#333" stroke-width="1.1"/>
<rect x="605.50" y="367.20" width="5.20" height="5.20" fill="#000"/>
<text x="475.30" y="617.00" font-size="15.9" text-anchor="start" >T (K)</text>
<text transform="translate(336.0,493.2) rotate(-90)" font-size="15">&#956; (cm<tspan font-size="9.2" dy="-8.3">2</tspan><tspan dy="8.3">V</tspan><tspan font-size="9.2" dy="-8.3">-1</tspan><tspan dy="8.3">s</tspan><tspan font-size="9.2" dy="-8.3">-1</tspan><tspan dy="8.3">)</tspan></text>
<text x="335.00" y="329.80" font-size="24.4" text-anchor="start" >d</text>
</svg>
</body></html>
